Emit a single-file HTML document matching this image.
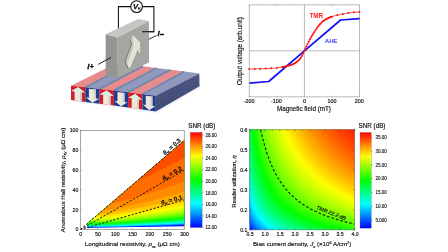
<!DOCTYPE html>
<html><head><meta charset="utf-8"><title>Figure</title>
<style>html,body{margin:0;padding:0;background:#fff;overflow:hidden}svg{display:block}</style>
</head><body>
<svg width="448" height="252" viewBox="0 0 448 252">
<defs><linearGradient id="rb" x1="0" y1="0" x2="0" y2="1"><stop offset="0" stop-color="#ff0000"/><stop offset="0.25" stop-color="#ffff00"/><stop offset="0.5" stop-color="#00ff00"/><stop offset="0.75" stop-color="#00ffff"/><stop offset="1" stop-color="#0000ff"/></linearGradient><linearGradient id="rf" x1="0" y1="0" x2="0.25" y2="1"><stop offset="0" stop-color="#59638f"/><stop offset="0.35" stop-color="#4a5480"/><stop offset="1" stop-color="#404a76"/></linearGradient></defs>
<rect width="448" height="252" fill="#fff"/>
<g id="illustration">
<polygon points="72.00,101.50 156.00,113.50 201.00,87.50 199.00,84.00" fill="#e9e9ec" opacity="0.45"/>
<polygon points="71.00,85.70 85.30,87.30 130.00,64.50 117.50,62.80" fill="#e88b8d"/>
<polygon points="85.30,87.30 99.60,89.00 143.00,66.20 130.00,64.50" fill="#8e99bb"/>
<polygon points="99.60,89.00 113.90,90.60 156.40,67.90 143.00,66.20" fill="#e88b8d"/>
<polygon points="113.90,90.60 128.10,92.30 170.70,69.80 156.40,67.90" fill="#8e99bb"/>
<polygon points="128.10,92.30 142.40,94.20 184.30,71.60 170.70,69.80" fill="#e88b8d"/>
<polygon points="142.40,94.20 155.80,95.80 199.30,73.60 184.30,71.60" fill="#8e99bb"/>
<line x1="85.30" y1="87.30" x2="130.00" y2="64.50" stroke="#6f87ad" stroke-width="1.7"/>
<line x1="99.60" y1="89.00" x2="143.00" y2="66.20" stroke="#6f87ad" stroke-width="1.7"/>
<line x1="113.90" y1="90.60" x2="156.40" y2="67.90" stroke="#6f87ad" stroke-width="1.7"/>
<line x1="128.10" y1="92.30" x2="170.70" y2="69.80" stroke="#6f87ad" stroke-width="1.7"/>
<line x1="142.40" y1="94.20" x2="184.30" y2="71.60" stroke="#6f87ad" stroke-width="1.7"/>
<polygon points="155.80,95.80 199.30,73.60 199.50,86.20 155.80,111.40" fill="url(#rf)"/>
<polygon points="71.00,85.70 85.30,87.30 85.30,101.90 71.00,100.00" fill="#cf1f2b"/>
<polygon points="85.30,87.30 99.60,89.00 99.60,103.70 85.30,101.90" fill="#1f3a8c"/>
<polygon points="99.60,89.00 113.90,90.60 113.90,105.60 99.60,103.70" fill="#cf1f2b"/>
<polygon points="113.90,90.60 128.10,92.30 128.10,107.40 113.90,105.60" fill="#1f3a8c"/>
<polygon points="128.10,92.30 142.40,94.20 142.40,109.50 128.10,107.40" fill="#cf1f2b"/>
<polygon points="142.40,94.20 155.80,95.80 155.80,111.40 142.40,109.50" fill="#1f3a8c"/>
<polygon points="78.15,87.22 84.87,92.50 81.87,92.00 81.87,101.44 74.58,100.47 74.58,91.13 71.29,90.88" fill="#ebe8dc"/>
<polygon points="80.01,91.92 81.87,92.15 81.87,101.44 80.01,101.20" fill="#cfccbf"/>
<polygon points="78.15,87.22 84.87,92.50 71.29,90.88" fill="#d9efe6"/>
<polygon points="92.45,102.65 99.17,98.80 96.02,98.55 96.02,89.60 88.88,88.75 88.88,97.67 85.73,97.14" fill="#ebe8dc"/>
<polygon points="94.17,89.38 96.02,89.60 96.02,98.55 94.17,98.32" fill="#cfccbf"/>
<polygon points="106.75,90.54 113.47,95.95 110.47,95.44 110.47,105.14 103.17,104.17 103.17,94.57 99.89,94.33" fill="#ebe8dc"/>
<polygon points="108.61,95.37 110.47,95.59 110.47,105.14 108.61,104.90" fill="#cfccbf"/>
<polygon points="106.75,90.54 113.47,95.95 99.89,94.33" fill="#d9efe6"/>
<polygon points="121.00,106.35 127.67,102.36 124.55,102.13 124.55,92.93 117.45,92.08 117.45,101.24 114.33,100.70" fill="#ebe8dc"/>
<polygon points="122.70,92.71 124.55,92.93 124.55,102.13 122.70,101.90" fill="#cfccbf"/>
<polygon points="135.25,94.01 141.97,99.65 138.97,99.08 138.97,109.00 131.68,107.93 131.68,98.08 128.39,97.78" fill="#ebe8dc"/>
<polygon points="137.11,98.98 138.97,99.23 138.97,109.00 137.11,108.72" fill="#cfccbf"/>
<polygon points="135.25,94.01 141.97,99.65 128.39,97.78" fill="#d9efe6"/>
<polygon points="149.10,110.30 155.40,106.20 152.45,105.96 152.45,96.49 145.75,95.68 145.75,105.05 142.80,104.51" fill="#ebe8dc"/>
<polygon points="150.71,96.28 152.45,96.49 152.45,105.96 150.71,105.72" fill="#cfccbf"/>
<path d="M118.4 30 V6.6 H153.9 V31.7 H142" fill="none" stroke="#111" stroke-width="1.05"/>
<polygon points="105.70,34.30 117.10,37.50 117.40,78.10 105.70,75.40" fill="#939591"/>
<polygon points="117.10,37.50 148.90,21.00 149.10,62.20 117.40,78.10" fill="#a4a6a2"/>
<polygon points="105.70,34.30 138.10,19.10 148.90,21.00 117.10,37.50" fill="#c4c6c1"/>
<polygon points="131.20,39.60 132.20,44.60 125.90,61.50 128.80,68.20 127.70,69.10 124.30,61.80 130.80,44.80 130.00,40.30" fill="#80827e"/>
<polygon points="137.60,50.10 139.90,54.40 139.90,55.80 137.30,51.60" fill="#8b8d89"/>
<polygon points="132.90,35.20 140.10,42.20 139.90,54.40 137.60,50.10 130.60,66.60 128.80,68.20 125.90,61.50 132.20,44.60 131.20,39.60" fill="#e4e2d7"/>
<polygon points="131.20,39.60 132.20,44.60 125.90,61.50 127.20,64.50 133.70,46.40 133.20,41.00 132.90,35.20" fill="#c6c5bb"/>
<path d="M153.9 31.7 H142" fill="none" stroke="#111" stroke-width="1.05"/>
<line x1="98.1" y1="64.4" x2="111" y2="57.5" stroke="#111" stroke-width="0.9"/>
<line x1="148.7" y1="39.3" x2="156.4" y2="35.5" stroke="#111" stroke-width="0.85"/>
<circle cx="136.6" cy="6.6" r="5.85" fill="#fff" stroke="#111" stroke-width="1.1"/>
<text x="133.1" y="8.8" font-family="Liberation Sans, Arial, sans-serif" font-size="7.6" font-weight="bold" font-style="italic" fill="#111" stroke="#111" stroke-width="0.25">V<tspan font-size="3.9" dx="-0.4" dy="1.25" font-style="normal" stroke-width="0.1">H</tspan></text>
<text x="87.3" y="69" font-family="Liberation Sans, Arial, sans-serif" font-size="7.8" font-weight="bold" font-style="italic" fill="#111" stroke="#111" stroke-width="0.3">I<tspan font-size="6.6" dx="0.3" dy="-0.5" stroke-width="0.4">+</tspan></text>
<text x="157.6" y="35.8" font-family="Liberation Sans, Arial, sans-serif" font-size="7.8" font-weight="bold" font-style="italic" fill="#111" stroke="#111" stroke-width="0.3">I<tspan font-size="7" dx="0.3" dy="-0.3" stroke-width="0.55">–</tspan></text>
</g>
<g id="plot-voltage">
<rect x="249.20" y="4.90" width="110.20" height="92.00" fill="#fff" stroke="#8c8c8c" stroke-width="0.6"/>
<line x1="304.40" y1="4.90" x2="304.40" y2="96.90" stroke="#8c8c8c" stroke-width="0.6"/>
<line x1="249.20" y1="50.80" x2="359.40" y2="50.80" stroke="#8c8c8c" stroke-width="0.6"/>
<line x1="249.20" y1="96.90" x2="249.20" y2="95.50" stroke="#8c8c8c" stroke-width="0.5"/>
<line x1="249.20" y1="4.90" x2="249.20" y2="6.30" stroke="#8c8c8c" stroke-width="0.5"/>
<line x1="262.97" y1="96.90" x2="262.97" y2="96.10" stroke="#8c8c8c" stroke-width="0.5"/>
<line x1="262.97" y1="4.90" x2="262.97" y2="5.70" stroke="#8c8c8c" stroke-width="0.5"/>
<line x1="276.75" y1="96.90" x2="276.75" y2="95.50" stroke="#8c8c8c" stroke-width="0.5"/>
<line x1="276.75" y1="4.90" x2="276.75" y2="6.30" stroke="#8c8c8c" stroke-width="0.5"/>
<line x1="290.52" y1="96.90" x2="290.52" y2="96.10" stroke="#8c8c8c" stroke-width="0.5"/>
<line x1="290.52" y1="4.90" x2="290.52" y2="5.70" stroke="#8c8c8c" stroke-width="0.5"/>
<line x1="304.30" y1="96.90" x2="304.30" y2="95.50" stroke="#8c8c8c" stroke-width="0.5"/>
<line x1="304.30" y1="4.90" x2="304.30" y2="6.30" stroke="#8c8c8c" stroke-width="0.5"/>
<line x1="318.07" y1="96.90" x2="318.07" y2="96.10" stroke="#8c8c8c" stroke-width="0.5"/>
<line x1="318.07" y1="4.90" x2="318.07" y2="5.70" stroke="#8c8c8c" stroke-width="0.5"/>
<line x1="331.85" y1="96.90" x2="331.85" y2="95.50" stroke="#8c8c8c" stroke-width="0.5"/>
<line x1="331.85" y1="4.90" x2="331.85" y2="6.30" stroke="#8c8c8c" stroke-width="0.5"/>
<line x1="345.62" y1="96.90" x2="345.62" y2="96.10" stroke="#8c8c8c" stroke-width="0.5"/>
<line x1="345.62" y1="4.90" x2="345.62" y2="5.70" stroke="#8c8c8c" stroke-width="0.5"/>
<line x1="359.40" y1="96.90" x2="359.40" y2="95.50" stroke="#8c8c8c" stroke-width="0.5"/>
<line x1="359.40" y1="4.90" x2="359.40" y2="6.30" stroke="#8c8c8c" stroke-width="0.5"/>
<polyline points="249.40,83.10 268.70,81.50 304.40,50.80 340.60,20.00 359.60,18.70" fill="none" stroke="#1010ff" stroke-width="1.7" stroke-linejoin="round"/>
<polyline points="249.40,69.00 262.00,68.80 276.60,68.00 283.70,66.90 290.90,65.10 295.00,63.20 298.00,61.10 300.40,58.40 302.30,55.40 304.40,50.60 307.00,45.20 310.70,37.70 314.30,32.00 318.60,25.60 322.90,21.30 325.70,19.40 330.70,17.00 337.10,15.10 342.90,13.90 348.60,13.00 354.30,12.30 359.60,12.00" fill="none" stroke="#ff1010" stroke-width="0.7" stroke-linejoin="round"/>
<circle cx="249.20" cy="69.00" r="1.0" fill="#ff1010"/>
<circle cx="254.71" cy="68.92" r="1.0" fill="#ff1010"/>
<circle cx="260.22" cy="68.83" r="1.0" fill="#ff1010"/>
<circle cx="265.73" cy="68.60" r="1.0" fill="#ff1010"/>
<circle cx="271.24" cy="68.29" r="1.0" fill="#ff1010"/>
<circle cx="276.75" cy="67.98" r="1.0" fill="#ff1010"/>
<circle cx="331.85" cy="16.66" r="1.0" fill="#ff1010"/>
<circle cx="337.36" cy="15.05" r="1.0" fill="#ff1010"/>
<circle cx="342.87" cy="13.91" r="1.0" fill="#ff1010"/>
<circle cx="348.38" cy="13.03" r="1.0" fill="#ff1010"/>
<circle cx="353.89" cy="12.35" r="1.0" fill="#ff1010"/>
<circle cx="359.40" cy="12.01" r="1.0" fill="#ff1010"/>
<circle cx="282.26" cy="67.12" r="1.0" fill="#ff1010"/>
<circle cx="283.36" cy="66.95" r="1.0" fill="#ff1010"/>
<circle cx="284.46" cy="66.71" r="1.0" fill="#ff1010"/>
<circle cx="285.56" cy="66.43" r="1.0" fill="#ff1010"/>
<circle cx="286.66" cy="66.16" r="1.0" fill="#ff1010"/>
<circle cx="287.76" cy="65.88" r="1.0" fill="#ff1010"/>
<circle cx="288.86" cy="65.61" r="1.0" fill="#ff1010"/>
<circle cx="289.96" cy="65.33" r="1.0" fill="#ff1010"/>
<circle cx="291.06" cy="65.03" r="1.0" fill="#ff1010"/>
<circle cx="292.16" cy="64.52" r="1.0" fill="#ff1010"/>
<circle cx="293.26" cy="64.01" r="1.0" fill="#ff1010"/>
<circle cx="294.36" cy="63.50" r="1.0" fill="#ff1010"/>
<circle cx="295.46" cy="62.88" r="1.0" fill="#ff1010"/>
<circle cx="296.56" cy="62.11" r="1.0" fill="#ff1010"/>
<circle cx="297.66" cy="61.34" r="1.0" fill="#ff1010"/>
<circle cx="298.76" cy="60.24" r="1.0" fill="#ff1010"/>
<circle cx="299.86" cy="59.01" r="1.0" fill="#ff1010"/>
<circle cx="300.96" cy="57.52" r="1.0" fill="#ff1010"/>
<circle cx="302.06" cy="55.78" r="1.0" fill="#ff1010"/>
<circle cx="303.16" cy="53.43" r="1.0" fill="#ff1010"/>
<circle cx="304.26" cy="50.92" r="1.0" fill="#ff1010"/>
<circle cx="305.36" cy="48.61" r="1.0" fill="#ff1010"/>
<circle cx="306.46" cy="46.32" r="1.0" fill="#ff1010"/>
<circle cx="307.56" cy="44.06" r="1.0" fill="#ff1010"/>
<circle cx="308.66" cy="41.84" r="1.0" fill="#ff1010"/>
<circle cx="309.76" cy="39.61" r="1.0" fill="#ff1010"/>
<circle cx="310.86" cy="37.45" r="1.0" fill="#ff1010"/>
<circle cx="311.96" cy="35.70" r="1.0" fill="#ff1010"/>
<circle cx="313.06" cy="33.96" r="1.0" fill="#ff1010"/>
<circle cx="314.16" cy="32.22" r="1.0" fill="#ff1010"/>
<circle cx="315.26" cy="30.57" r="1.0" fill="#ff1010"/>
<circle cx="316.36" cy="28.93" r="1.0" fill="#ff1010"/>
<circle cx="317.46" cy="27.30" r="1.0" fill="#ff1010"/>
<circle cx="318.56" cy="25.66" r="1.0" fill="#ff1010"/>
<circle cx="319.66" cy="24.54" r="1.0" fill="#ff1010"/>
<circle cx="320.76" cy="23.44" r="1.0" fill="#ff1010"/>
<circle cx="321.86" cy="22.34" r="1.0" fill="#ff1010"/>
<circle cx="322.96" cy="21.26" r="1.0" fill="#ff1010"/>
<circle cx="324.06" cy="20.51" r="1.0" fill="#ff1010"/>
<circle cx="325.16" cy="19.77" r="1.0" fill="#ff1010"/>
<circle cx="326.26" cy="19.13" r="1.0" fill="#ff1010"/>
<circle cx="327.36" cy="18.60" r="1.0" fill="#ff1010"/>
<circle cx="328.46" cy="18.08" r="1.0" fill="#ff1010"/>
<circle cx="329.56" cy="17.55" r="1.0" fill="#ff1010"/>
<circle cx="330.66" cy="17.02" r="1.0" fill="#ff1010"/>
<circle cx="331.76" cy="16.69" r="1.0" fill="#ff1010"/>
<text x="309.5" y="17.8" font-family="Liberation Sans, Arial, sans-serif" font-size="6.3" font-weight="bold" fill="#ff2020" stroke="none">TMR</text>
<text x="324.8" y="42.8" font-family="Liberation Sans, Arial, sans-serif" font-size="6.1" font-weight="bold" fill="#3a3aff" stroke="none">AHE</text>
<text x="249.10" y="103.3" font-family="Liberation Sans, Arial, sans-serif" font-size="5.4" text-anchor="middle" fill="#111" stroke="#111" stroke-width="0.16">-200</text>
<text x="276.30" y="103.3" font-family="Liberation Sans, Arial, sans-serif" font-size="5.4" text-anchor="middle" fill="#111" stroke="#111" stroke-width="0.16">-100</text>
<text x="304.40" y="103.3" font-family="Liberation Sans, Arial, sans-serif" font-size="5.4" text-anchor="middle" fill="#111" stroke="#111" stroke-width="0.16">0</text>
<text x="332.00" y="103.3" font-family="Liberation Sans, Arial, sans-serif" font-size="5.4" text-anchor="middle" fill="#111" stroke="#111" stroke-width="0.16">100</text>
<text x="359.20" y="103.3" font-family="Liberation Sans, Arial, sans-serif" font-size="5.4" text-anchor="middle" fill="#111" stroke="#111" stroke-width="0.16">200</text>
<text x="304" y="111.2" font-family="Liberation Sans, Arial, sans-serif" font-size="6.3" text-anchor="middle" fill="#111" stroke="#111" stroke-width="0.16">Magnetic field (mT)</text>
<text transform="translate(241.8,51) rotate(-90)" font-family="Liberation Sans, Arial, sans-serif" font-size="6.3" text-anchor="middle" fill="#111" stroke="#111" stroke-width="0.16">Output voltage (arb.unit)</text>
</g>
<g id="plot-ahe-snr">
<rect x="80.40" y="130.60" width="103.80" height="98.90" fill="#fff"/>
<clipPath id="wedge"><polygon points="87.32,223.57 184.20,140.49 184.20,226.24 87.32,227.82"/></clipPath>
<g clip-path="url(#wedge)">
<rect x="80.40" y="130.60" width="107.80" height="98.90" fill="#0000ff"/>
<polygon points="84.32,127.60 84.32,227.43 87.32,227.43 88.01,227.43 88.70,227.43 89.40,227.42 90.09,227.42 90.78,227.42 91.47,227.41 92.16,227.41 92.86,227.40 93.55,227.39 94.24,227.39 94.93,227.38 95.62,227.38 96.32,227.37 97.01,227.36 97.70,227.35 98.39,227.35 99.08,227.34 99.78,227.33 100.47,227.32 101.16,227.31 102.54,227.30 103.93,227.28 105.31,227.26 106.70,227.24 108.08,227.21 109.46,227.19 110.85,227.17 112.23,227.14 113.62,227.12 115.00,227.09 116.38,227.07 117.77,227.04 119.15,227.01 120.54,226.98 121.92,226.95 123.30,226.92 124.69,226.89 126.07,226.86 127.46,226.83 128.84,226.79 130.22,226.76 131.61,226.73 132.99,226.69 134.38,226.66 135.76,226.62 137.14,226.59 138.53,226.55 139.91,226.51 141.30,226.48 142.68,226.44 144.06,226.40 145.45,226.36 146.83,226.32 148.22,226.28 149.60,226.25 150.98,226.21 152.37,226.17 153.75,226.13 155.14,226.09 156.52,226.05 157.90,226.01 159.29,225.96 160.67,225.92 162.06,225.88 163.44,225.84 164.82,225.80 166.21,225.76 167.59,225.71 168.98,225.67 170.36,225.63 171.74,225.58 173.13,225.54 174.51,225.50 175.90,225.45 177.28,225.41 178.66,225.37 180.05,225.32 181.43,225.28 182.82,225.23 184.20,225.19 187.20,225.19 187.20,127.60" fill="#002eff"/>
<polygon points="84.32,127.60 84.32,227.31 87.32,227.31 88.01,227.30 88.70,227.30 89.40,227.30 90.09,227.29 90.78,227.29 91.47,227.28 92.16,227.28 92.86,227.27 93.55,227.27 94.24,227.26 94.93,227.25 95.62,227.25 96.32,227.24 97.01,227.23 97.70,227.22 98.39,227.22 99.08,227.21 99.78,227.20 100.47,227.19 101.16,227.18 102.54,227.16 103.93,227.14 105.31,227.12 106.70,227.10 108.08,227.07 109.46,227.05 110.85,227.02 112.23,227.00 113.62,226.97 115.00,226.94 116.38,226.92 117.77,226.89 119.15,226.86 120.54,226.83 121.92,226.79 123.30,226.76 124.69,226.73 126.07,226.69 127.46,226.66 128.84,226.63 130.22,226.59 131.61,226.55 132.99,226.52 134.38,226.48 135.76,226.44 137.14,226.41 138.53,226.37 139.91,226.33 141.30,226.29 142.68,226.25 144.06,226.21 145.45,226.17 146.83,226.13 148.22,226.09 149.60,226.05 150.98,226.00 152.37,225.96 153.75,225.92 155.14,225.88 156.52,225.83 157.90,225.79 159.29,225.75 160.67,225.70 162.06,225.66 163.44,225.61 164.82,225.57 166.21,225.53 167.59,225.48 168.98,225.44 170.36,225.39 171.74,225.34 173.13,225.30 174.51,225.25 175.90,225.21 177.28,225.16 178.66,225.11 180.05,225.07 181.43,225.02 182.82,224.97 184.20,224.93 187.20,224.93 187.20,127.60" fill="#004dff"/>
<polygon points="84.32,127.60 84.32,227.17 87.32,227.17 88.01,227.17 88.70,227.16 89.40,227.16 90.09,227.16 90.78,227.15 91.47,227.15 92.16,227.14 92.86,227.13 93.55,227.13 94.24,227.12 94.93,227.11 95.62,227.11 96.32,227.10 97.01,227.09 97.70,227.08 98.39,227.07 99.08,227.07 99.78,227.06 100.47,227.05 101.16,227.04 102.54,227.02 103.93,227.00 105.31,226.97 106.70,226.95 108.08,226.92 109.46,226.90 110.85,226.87 112.23,226.84 113.62,226.82 115.00,226.79 116.38,226.76 117.77,226.73 119.15,226.69 120.54,226.66 121.92,226.63 123.30,226.59 124.69,226.56 126.07,226.52 127.46,226.49 128.84,226.45 130.22,226.41 131.61,226.37 132.99,226.33 134.38,226.30 135.76,226.26 137.14,226.22 138.53,226.17 139.91,226.13 141.30,226.09 142.68,226.05 144.06,226.01 145.45,225.96 146.83,225.92 148.22,225.88 149.60,225.83 150.98,225.79 152.37,225.74 153.75,225.70 155.14,225.65 156.52,225.61 157.90,225.56 159.29,225.52 160.67,225.47 162.06,225.42 163.44,225.38 164.82,225.33 166.21,225.28 167.59,225.23 168.98,225.18 170.36,225.14 171.74,225.09 173.13,225.04 174.51,224.99 175.90,224.94 177.28,224.89 178.66,224.84 180.05,224.79 181.43,224.74 182.82,224.69 184.20,224.64 187.20,224.64 187.20,127.60" fill="#006cff"/>
<polygon points="84.32,127.60 84.32,227.03 87.32,227.03 88.01,227.02 88.70,227.02 89.40,227.02 90.09,227.01 90.78,227.01 91.47,227.00 92.16,226.99 92.86,226.99 93.55,226.98 94.24,226.97 94.93,226.97 95.62,226.96 96.32,226.95 97.01,226.94 97.70,226.93 98.39,226.92 99.08,226.91 99.78,226.90 100.47,226.89 101.16,226.88 102.54,226.86 103.93,226.84 105.31,226.82 106.70,226.79 108.08,226.76 109.46,226.74 110.85,226.71 112.23,226.68 113.62,226.65 115.00,226.62 116.38,226.59 117.77,226.55 119.15,226.52 120.54,226.48 121.92,226.45 123.30,226.41 124.69,226.38 126.07,226.34 127.46,226.30 128.84,226.26 130.22,226.22 131.61,226.18 132.99,226.14 134.38,226.10 135.76,226.05 137.14,226.01 138.53,225.97 139.91,225.92 141.30,225.88 142.68,225.84 144.06,225.79 145.45,225.75 146.83,225.70 148.22,225.65 149.60,225.61 150.98,225.56 152.37,225.51 153.75,225.46 155.14,225.42 156.52,225.37 157.90,225.32 159.29,225.27 160.67,225.22 162.06,225.17 163.44,225.12 164.82,225.07 166.21,225.02 167.59,224.97 168.98,224.92 170.36,224.87 171.74,224.81 173.13,224.76 174.51,224.71 175.90,224.66 177.28,224.61 178.66,224.55 180.05,224.50 181.43,224.45 182.82,224.40 184.20,224.34 187.20,224.34 187.20,127.60" fill="#008bff"/>
<polygon points="84.32,127.60 84.32,226.87 87.32,226.87 88.01,226.87 88.70,226.87 89.40,226.86 90.09,226.86 90.78,226.85 91.47,226.84 92.16,226.84 92.86,226.83 93.55,226.82 94.24,226.82 94.93,226.81 95.62,226.80 96.32,226.79 97.01,226.78 97.70,226.77 98.39,226.76 99.08,226.75 99.78,226.74 100.47,226.73 101.16,226.72 102.54,226.70 103.93,226.67 105.31,226.65 106.70,226.62 108.08,226.59 109.46,226.57 110.85,226.54 112.23,226.50 113.62,226.47 115.00,226.44 116.38,226.40 117.77,226.37 119.15,226.33 120.54,226.30 121.92,226.26 123.30,226.22 124.69,226.18 126.07,226.14 127.46,226.10 128.84,226.06 130.22,226.02 131.61,225.97 132.99,225.93 134.38,225.88 135.76,225.84 137.14,225.79 138.53,225.75 139.91,225.70 141.30,225.65 142.68,225.61 144.06,225.56 145.45,225.51 146.83,225.46 148.22,225.41 149.60,225.36 150.98,225.31 152.37,225.26 153.75,225.21 155.14,225.16 156.52,225.11 157.90,225.06 159.29,225.00 160.67,224.95 162.06,224.90 163.44,224.85 164.82,224.79 166.21,224.74 167.59,224.69 168.98,224.63 170.36,224.58 171.74,224.52 173.13,224.47 174.51,224.41 175.90,224.36 177.28,224.30 178.66,224.25 180.05,224.19 181.43,224.13 182.82,224.08 184.20,224.02 187.20,224.02 187.20,127.60" fill="#00aaff"/>
<polygon points="84.32,127.60 84.32,226.71 87.32,226.71 88.01,226.71 88.70,226.70 89.40,226.70 90.09,226.69 90.78,226.68 91.47,226.68 92.16,226.67 92.86,226.66 93.55,226.66 94.24,226.65 94.93,226.64 95.62,226.63 96.32,226.62 97.01,226.61 97.70,226.60 98.39,226.59 99.08,226.58 99.78,226.57 100.47,226.56 101.16,226.55 102.54,226.52 103.93,226.50 105.31,226.47 106.70,226.44 108.08,226.41 109.46,226.38 110.85,226.35 112.23,226.32 113.62,226.28 115.00,226.25 116.38,226.21 117.77,226.17 119.15,226.13 120.54,226.10 121.92,226.06 123.30,226.01 124.69,225.97 126.07,225.93 127.46,225.89 128.84,225.84 130.22,225.80 131.61,225.75 132.99,225.70 134.38,225.66 135.76,225.61 137.14,225.56 138.53,225.51 139.91,225.46 141.30,225.41 142.68,225.36 144.06,225.31 145.45,225.26 146.83,225.21 148.22,225.16 149.60,225.10 150.98,225.05 152.37,225.00 153.75,224.94 155.14,224.89 156.52,224.83 157.90,224.78 159.29,224.72 160.67,224.67 162.06,224.61 163.44,224.55 164.82,224.50 166.21,224.44 167.59,224.38 168.98,224.33 170.36,224.27 171.74,224.21 173.13,224.15 174.51,224.09 175.90,224.03 177.28,223.98 178.66,223.92 180.05,223.86 181.43,223.80 182.82,223.74 184.20,223.68 187.20,223.68 187.20,127.60" fill="#00c9ff"/>
<polygon points="84.32,127.60 84.32,226.53 87.32,226.53 88.01,226.53 88.70,226.52 89.40,226.52 90.09,226.51 90.78,226.51 91.47,226.50 92.16,226.49 92.86,226.48 93.55,226.48 94.24,226.47 94.93,226.46 95.62,226.45 96.32,226.44 97.01,226.43 97.70,226.42 98.39,226.41 99.08,226.40 99.78,226.39 100.47,226.37 101.16,226.36 102.54,226.33 103.93,226.31 105.31,226.28 106.70,226.25 108.08,226.22 109.46,226.18 110.85,226.15 112.23,226.12 113.62,226.08 115.00,226.04 116.38,226.00 117.77,225.96 119.15,225.92 120.54,225.88 121.92,225.84 123.30,225.79 124.69,225.75 126.07,225.70 127.46,225.66 128.84,225.61 130.22,225.56 131.61,225.51 132.99,225.47 134.38,225.42 135.76,225.36 137.14,225.31 138.53,225.26 139.91,225.21 141.30,225.16 142.68,225.10 144.06,225.05 145.45,224.99 146.83,224.94 148.22,224.88 149.60,224.83 150.98,224.77 152.37,224.71 153.75,224.65 155.14,224.60 156.52,224.54 157.90,224.48 159.29,224.42 160.67,224.36 162.06,224.30 163.44,224.24 164.82,224.18 166.21,224.12 167.59,224.06 168.98,224.00 170.36,223.94 171.74,223.88 173.13,223.81 174.51,223.75 175.90,223.69 177.28,223.63 178.66,223.56 180.05,223.50 181.43,223.44 182.82,223.37 184.20,223.31 187.20,223.31 187.20,127.60" fill="#00e8ff"/>
<polygon points="84.32,127.60 84.32,226.34 87.32,226.34 88.01,226.34 88.70,226.33 89.40,226.33 90.09,226.32 90.78,226.31 91.47,226.31 92.16,226.30 92.86,226.29 93.55,226.28 94.24,226.27 94.93,226.26 95.62,226.25 96.32,226.24 97.01,226.23 97.70,226.22 98.39,226.21 99.08,226.20 99.78,226.19 100.47,226.17 101.16,226.16 102.54,226.13 103.93,226.10 105.31,226.07 106.70,226.04 108.08,226.01 109.46,225.97 110.85,225.94 112.23,225.90 113.62,225.86 115.00,225.82 116.38,225.78 117.77,225.74 119.15,225.69 120.54,225.65 121.92,225.60 123.30,225.56 124.69,225.51 126.07,225.46 127.46,225.41 128.84,225.36 130.22,225.31 131.61,225.26 132.99,225.21 134.38,225.15 135.76,225.10 137.14,225.05 138.53,224.99 139.91,224.94 141.30,224.88 142.68,224.82 144.06,224.76 145.45,224.71 146.83,224.65 148.22,224.59 149.60,224.53 150.98,224.47 152.37,224.41 153.75,224.35 155.14,224.28 156.52,224.22 157.90,224.16 159.29,224.10 160.67,224.03 162.06,223.97 163.44,223.91 164.82,223.84 166.21,223.78 167.59,223.71 168.98,223.65 170.36,223.58 171.74,223.52 173.13,223.45 174.51,223.39 175.90,223.32 177.28,223.25 178.66,223.19 180.05,223.12 181.43,223.05 182.82,222.98 184.20,222.92 187.20,222.92 187.20,127.60" fill="#00fff7"/>
<polygon points="84.32,127.60 84.32,226.14 87.32,226.14 88.01,226.14 88.70,226.13 89.40,226.12 90.09,226.12 90.78,226.11 91.47,226.10 92.16,226.09 92.86,226.09 93.55,226.08 94.24,226.07 94.93,226.06 95.62,226.05 96.32,226.04 97.01,226.02 97.70,226.01 98.39,226.00 99.08,225.99 99.78,225.97 100.47,225.96 101.16,225.95 102.54,225.92 103.93,225.89 105.31,225.85 106.70,225.82 108.08,225.78 109.46,225.75 110.85,225.71 112.23,225.67 113.62,225.63 115.00,225.58 116.38,225.54 117.77,225.50 119.15,225.45 120.54,225.40 121.92,225.35 123.30,225.30 124.69,225.25 126.07,225.20 127.46,225.15 128.84,225.10 130.22,225.04 131.61,224.99 132.99,224.93 134.38,224.88 135.76,224.82 137.14,224.76 138.53,224.70 139.91,224.64 141.30,224.58 142.68,224.52 144.06,224.46 145.45,224.40 146.83,224.34 148.22,224.27 149.60,224.21 150.98,224.14 152.37,224.08 153.75,224.02 155.14,223.95 156.52,223.88 157.90,223.82 159.29,223.75 160.67,223.68 162.06,223.62 163.44,223.55 164.82,223.48 166.21,223.41 167.59,223.34 168.98,223.27 170.36,223.20 171.74,223.13 173.13,223.06 174.51,222.99 175.90,222.92 177.28,222.85 178.66,222.78 180.05,222.71 181.43,222.64 182.82,222.56 184.20,222.49 187.20,222.49 187.20,127.60" fill="#00ffd8"/>
<polygon points="84.32,127.60 84.32,225.92 87.32,225.92 88.01,225.92 88.70,225.91 89.40,225.91 90.09,225.90 90.78,225.89 91.47,225.88 92.16,225.87 92.86,225.86 93.55,225.85 94.24,225.84 94.93,225.83 95.62,225.82 96.32,225.81 97.01,225.80 97.70,225.79 98.39,225.77 99.08,225.76 99.78,225.74 100.47,225.73 101.16,225.72 102.54,225.68 103.93,225.65 105.31,225.62 106.70,225.58 108.08,225.54 109.46,225.50 110.85,225.46 112.23,225.42 113.62,225.38 115.00,225.33 116.38,225.28 117.77,225.24 119.15,225.19 120.54,225.14 121.92,225.08 123.30,225.03 124.69,224.98 126.07,224.92 127.46,224.87 128.84,224.81 130.22,224.75 131.61,224.69 132.99,224.64 134.38,224.58 135.76,224.51 137.14,224.45 138.53,224.39 139.91,224.33 141.30,224.26 142.68,224.20 144.06,224.13 145.45,224.07 146.83,224.00 148.22,223.93 149.60,223.87 150.98,223.80 152.37,223.73 153.75,223.66 155.14,223.59 156.52,223.52 157.90,223.45 159.29,223.38 160.67,223.31 162.06,223.23 163.44,223.16 164.82,223.09 166.21,223.02 167.59,222.94 168.98,222.87 170.36,222.79 171.74,222.72 173.13,222.65 174.51,222.57 175.90,222.49 177.28,222.42 178.66,222.34 180.05,222.27 181.43,222.19 182.82,222.11 184.20,222.04 187.20,222.04 187.20,127.60" fill="#00ffb9"/>
<polygon points="84.32,127.60 84.32,225.69 87.32,225.69 88.01,225.68 88.70,225.68 89.40,225.67 90.09,225.66 90.78,225.65 91.47,225.64 92.16,225.63 92.86,225.63 93.55,225.61 94.24,225.60 94.93,225.59 95.62,225.58 96.32,225.57 97.01,225.55 97.70,225.54 98.39,225.53 99.08,225.51 99.78,225.50 100.47,225.48 101.16,225.47 102.54,225.43 103.93,225.40 105.31,225.36 106.70,225.32 108.08,225.28 109.46,225.24 110.85,225.20 112.23,225.15 113.62,225.10 115.00,225.06 116.38,225.01 117.77,224.96 119.15,224.90 120.54,224.85 121.92,224.79 123.30,224.74 124.69,224.68 126.07,224.62 127.46,224.56 128.84,224.50 130.22,224.44 131.61,224.38 132.99,224.32 134.38,224.25 135.76,224.19 137.14,224.12 138.53,224.05 139.91,223.99 141.30,223.92 142.68,223.85 144.06,223.78 145.45,223.71 146.83,223.64 148.22,223.57 149.60,223.49 150.98,223.42 152.37,223.35 153.75,223.27 155.14,223.20 156.52,223.13 157.90,223.05 159.29,222.97 160.67,222.90 162.06,222.82 163.44,222.74 164.82,222.67 166.21,222.59 167.59,222.51 168.98,222.43 170.36,222.35 171.74,222.27 173.13,222.19 174.51,222.11 175.90,222.03 177.28,221.95 178.66,221.87 180.05,221.79 181.43,221.71 182.82,221.63 184.20,221.55 187.20,221.55 187.20,127.60" fill="#00ff9b"/>
<polygon points="84.32,127.60 84.32,225.43 87.32,225.43 88.01,225.43 88.70,225.42 89.40,225.41 90.09,225.41 90.78,225.40 91.47,225.39 92.16,225.38 92.86,225.37 93.55,225.36 94.24,225.34 94.93,225.33 95.62,225.32 96.32,225.31 97.01,225.29 97.70,225.28 98.39,225.26 99.08,225.25 99.78,225.23 100.47,225.21 101.16,225.20 102.54,225.16 103.93,225.12 105.31,225.09 106.70,225.04 108.08,225.00 109.46,224.96 110.85,224.91 112.23,224.86 113.62,224.81 115.00,224.76 116.38,224.71 117.77,224.65 119.15,224.60 120.54,224.54 121.92,224.48 123.30,224.42 124.69,224.36 126.07,224.30 127.46,224.23 128.84,224.17 130.22,224.10 131.61,224.04 132.99,223.97 134.38,223.90 135.76,223.83 137.14,223.76 138.53,223.69 139.91,223.62 141.30,223.55 142.68,223.47 144.06,223.40 145.45,223.32 146.83,223.25 148.22,223.17 149.60,223.09 150.98,223.02 152.37,222.94 153.75,222.86 155.14,222.78 156.52,222.70 157.90,222.62 159.29,222.54 160.67,222.46 162.06,222.38 163.44,222.29 164.82,222.21 166.21,222.13 167.59,222.05 168.98,221.96 170.36,221.88 171.74,221.79 173.13,221.71 174.51,221.62 175.90,221.54 177.28,221.45 178.66,221.36 180.05,221.28 181.43,221.19 182.82,221.10 184.20,221.02 187.20,221.02 187.20,127.60" fill="#00ff7c"/>
<polygon points="84.32,127.60 84.32,225.16 87.32,225.16 88.01,225.15 88.70,225.15 89.40,225.14 90.09,225.13 90.78,225.12 91.47,225.11 92.16,225.10 92.86,225.09 93.55,225.08 94.24,225.06 94.93,225.05 95.62,225.04 96.32,225.02 97.01,225.01 97.70,224.99 98.39,224.98 99.08,224.96 99.78,224.94 100.47,224.93 101.16,224.91 102.54,224.87 103.93,224.83 105.31,224.79 106.70,224.74 108.08,224.70 109.46,224.65 110.85,224.60 112.23,224.55 113.62,224.49 115.00,224.44 116.38,224.38 117.77,224.32 119.15,224.27 120.54,224.20 121.92,224.14 123.30,224.08 124.69,224.01 126.07,223.95 127.46,223.88 128.84,223.81 130.22,223.74 131.61,223.67 132.99,223.60 134.38,223.52 135.76,223.45 137.14,223.37 138.53,223.30 139.91,223.22 141.30,223.14 142.68,223.07 144.06,222.99 145.45,222.91 146.83,222.83 148.22,222.74 149.60,222.66 150.98,222.58 152.37,222.50 153.75,222.41 155.14,222.33 156.52,222.24 157.90,222.16 159.29,222.07 160.67,221.98 162.06,221.90 163.44,221.81 164.82,221.72 166.21,221.63 167.59,221.54 168.98,221.45 170.36,221.36 171.74,221.27 173.13,221.18 174.51,221.09 175.90,221.00 177.28,220.91 178.66,220.81 180.05,220.72 181.43,220.63 182.82,220.54 184.20,220.44 187.20,220.44 187.20,127.60" fill="#00ff5d"/>
<polygon points="84.32,127.60 84.32,224.86 87.32,224.86 88.01,224.85 88.70,224.85 89.40,224.84 90.09,224.83 90.78,224.82 91.47,224.81 92.16,224.80 92.86,224.78 93.55,224.77 94.24,224.76 94.93,224.74 95.62,224.73 96.32,224.71 97.01,224.70 97.70,224.68 98.39,224.67 99.08,224.65 99.78,224.63 100.47,224.61 101.16,224.59 102.54,224.55 103.93,224.51 105.31,224.46 106.70,224.42 108.08,224.37 109.46,224.32 110.85,224.26 112.23,224.21 113.62,224.15 115.00,224.09 116.38,224.03 117.77,223.97 119.15,223.91 120.54,223.84 121.92,223.77 123.30,223.70 124.69,223.64 126.07,223.56 127.46,223.49 128.84,223.42 130.22,223.34 131.61,223.27 132.99,223.19 134.38,223.11 135.76,223.03 137.14,222.95 138.53,222.87 139.91,222.79 141.30,222.71 142.68,222.62 144.06,222.54 145.45,222.45 146.83,222.37 148.22,222.28 149.60,222.19 150.98,222.10 152.37,222.01 153.75,221.92 155.14,221.83 156.52,221.74 157.90,221.65 159.29,221.56 160.67,221.47 162.06,221.37 163.44,221.28 164.82,221.18 166.21,221.09 167.59,220.99 168.98,220.90 170.36,220.80 171.74,220.71 173.13,220.61 174.51,220.51 175.90,220.41 177.28,220.32 178.66,220.22 180.05,220.12 181.43,220.02 182.82,219.92 184.20,219.82 187.20,219.82 187.20,127.60" fill="#00ff3e"/>
<polygon points="84.32,127.60 84.32,224.54 87.32,224.54 88.01,224.53 88.70,224.52 89.40,224.51 90.09,224.50 90.78,224.49 91.47,224.48 92.16,224.47 92.86,224.45 93.55,224.44 94.24,224.43 94.93,224.41 95.62,224.39 96.32,224.38 97.01,224.36 97.70,224.34 98.39,224.33 99.08,224.31 99.78,224.29 100.47,224.27 101.16,224.25 102.54,224.20 103.93,224.16 105.31,224.11 106.70,224.06 108.08,224.01 109.46,223.95 110.85,223.89 112.23,223.84 113.62,223.77 115.00,223.71 116.38,223.65 117.77,223.58 119.15,223.51 120.54,223.44 121.92,223.37 123.30,223.30 124.69,223.22 126.07,223.15 127.46,223.07 128.84,222.99 130.22,222.91 131.61,222.83 132.99,222.75 134.38,222.66 135.76,222.58 137.14,222.49 138.53,222.41 139.91,222.32 141.30,222.23 142.68,222.14 144.06,222.05 145.45,221.96 146.83,221.87 148.22,221.77 149.60,221.68 150.98,221.58 152.37,221.49 153.75,221.39 155.14,221.29 156.52,221.20 157.90,221.10 159.29,221.00 160.67,220.90 162.06,220.80 163.44,220.70 164.82,220.60 166.21,220.50 167.59,220.40 168.98,220.29 170.36,220.19 171.74,220.09 173.13,219.98 174.51,219.88 175.90,219.78 177.28,219.67 178.66,219.57 180.05,219.46 181.43,219.35 182.82,219.25 184.20,219.14 187.20,219.14 187.20,127.60" fill="#00ff1f"/>
<polygon points="84.32,127.60 84.32,224.18 87.32,224.18 88.01,224.17 88.70,224.16 89.40,224.15 90.09,224.14 90.78,224.13 91.47,224.12 92.16,224.10 92.86,224.09 93.55,224.08 94.24,224.06 94.93,224.04 95.62,224.03 96.32,224.01 97.01,223.99 97.70,223.97 98.39,223.95 99.08,223.93 99.78,223.91 100.47,223.89 101.16,223.87 102.54,223.82 103.93,223.77 105.31,223.72 106.70,223.67 108.08,223.61 109.46,223.55 110.85,223.49 112.23,223.43 113.62,223.36 115.00,223.30 116.38,223.23 117.77,223.16 119.15,223.08 120.54,223.01 121.92,222.93 123.30,222.85 124.69,222.77 126.07,222.69 127.46,222.61 128.84,222.52 130.22,222.44 131.61,222.35 132.99,222.26 134.38,222.17 135.76,222.08 137.14,221.99 138.53,221.90 139.91,221.80 141.30,221.71 142.68,221.61 144.06,221.51 145.45,221.42 146.83,221.32 148.22,221.22 149.60,221.12 150.98,221.01 152.37,220.91 153.75,220.81 155.14,220.71 156.52,220.60 157.90,220.50 159.29,220.39 160.67,220.28 162.06,220.18 163.44,220.07 164.82,219.96 166.21,219.85 167.59,219.74 168.98,219.63 170.36,219.52 171.74,219.41 173.13,219.30 174.51,219.19 175.90,219.08 177.28,218.97 178.66,218.85 180.05,218.74 181.43,218.63 182.82,218.51 184.20,218.40 187.20,218.40 187.20,127.60" fill="#00ff00"/>
<polygon points="84.32,127.60 84.32,223.79 87.32,223.79 88.01,223.78 88.70,223.77 89.40,223.76 90.09,223.75 90.78,223.73 91.47,223.72 92.16,223.71 92.86,223.69 93.55,223.68 94.24,223.66 94.93,223.64 95.62,223.62 96.32,223.61 97.01,223.59 97.70,223.57 98.39,223.55 99.08,223.52 99.78,223.50 100.47,223.48 101.16,223.45 102.54,223.40 103.93,223.35 105.31,223.30 106.70,223.24 108.08,223.18 109.46,223.11 110.85,223.05 112.23,222.98 113.62,222.91 115.00,222.84 116.38,222.76 117.77,222.69 119.15,222.61 120.54,222.53 121.92,222.45 123.30,222.36 124.69,222.28 126.07,222.19 127.46,222.10 128.84,222.01 130.22,221.92 131.61,221.82 132.99,221.73 134.38,221.63 135.76,221.54 137.14,221.44 138.53,221.34 139.91,221.24 141.30,221.13 142.68,221.03 144.06,220.93 145.45,220.82 146.83,220.71 148.22,220.61 149.60,220.50 150.98,220.39 152.37,220.28 153.75,220.17 155.14,220.06 156.52,219.95 157.90,219.83 159.29,219.72 160.67,219.60 162.06,219.49 163.44,219.37 164.82,219.26 166.21,219.14 167.59,219.02 168.98,218.91 170.36,218.79 171.74,218.67 173.13,218.55 174.51,218.43 175.90,218.31 177.28,218.19 178.66,218.07 180.05,217.95 181.43,217.82 182.82,217.70 184.20,217.58 187.20,217.58 187.20,127.60" fill="#1fff00"/>
<polygon points="87.57,127.60 87.57,223.35 88.01,223.34 88.70,223.33 89.40,223.32 90.09,223.31 90.78,223.30 91.47,223.28 92.16,223.27 92.86,223.25 93.55,223.23 94.24,223.22 94.93,223.20 95.62,223.18 96.32,223.16 97.01,223.14 97.70,223.12 98.39,223.09 99.08,223.07 99.78,223.05 100.47,223.02 101.16,222.99 102.54,222.94 103.93,222.88 105.31,222.82 106.70,222.76 108.08,222.70 109.46,222.63 110.85,222.56 112.23,222.49 113.62,222.41 115.00,222.33 116.38,222.25 117.77,222.17 119.15,222.09 120.54,222.00 121.92,221.91 123.30,221.82 124.69,221.73 126.07,221.63 127.46,221.54 128.84,221.44 130.22,221.34 131.61,221.24 132.99,221.14 134.38,221.04 135.76,220.93 137.14,220.82 138.53,220.72 139.91,220.61 141.30,220.50 142.68,220.39 144.06,220.27 145.45,220.16 146.83,220.05 148.22,219.93 149.60,219.81 150.98,219.70 152.37,219.58 153.75,219.46 155.14,219.34 156.52,219.22 157.90,219.10 159.29,218.98 160.67,218.85 162.06,218.73 163.44,218.60 164.82,218.48 166.21,218.35 167.59,218.23 168.98,218.10 170.36,217.97 171.74,217.85 173.13,217.72 174.51,217.59 175.90,217.46 177.28,217.33 178.66,217.20 180.05,217.07 181.43,216.94 182.82,216.80 184.20,216.67 187.20,216.67 187.20,127.60" fill="#3eff00"/>
<polygon points="88.15,127.60 88.15,222.86 88.70,222.85 89.40,222.83 90.09,222.82 90.78,222.81 91.47,222.79 92.16,222.78 92.86,222.76 93.55,222.74 94.24,222.72 94.93,222.70 95.62,222.68 96.32,222.66 97.01,222.64 97.70,222.61 98.39,222.59 99.08,222.56 99.78,222.54 100.47,222.51 101.16,222.48 102.54,222.42 103.93,222.36 105.31,222.30 106.70,222.23 108.08,222.16 109.46,222.09 110.85,222.01 112.23,221.93 113.62,221.85 115.00,221.77 116.38,221.68 117.77,221.59 119.15,221.50 120.54,221.41 121.92,221.31 123.30,221.22 124.69,221.12 126.07,221.01 127.46,220.91 128.84,220.81 130.22,220.70 131.61,220.59 132.99,220.48 134.38,220.37 135.76,220.26 137.14,220.14 138.53,220.02 139.91,219.91 141.30,219.79 142.68,219.67 144.06,219.55 145.45,219.43 146.83,219.30 148.22,219.18 149.60,219.05 150.98,218.93 152.37,218.80 153.75,218.67 155.14,218.54 156.52,218.41 157.90,218.28 159.29,218.15 160.67,218.01 162.06,217.88 163.44,217.75 164.82,217.61 166.21,217.48 167.59,217.34 168.98,217.20 170.36,217.07 171.74,216.93 173.13,216.79 174.51,216.65 175.90,216.51 177.28,216.37 178.66,216.23 180.05,216.09 181.43,215.95 182.82,215.81 184.20,215.66 187.20,215.66 187.20,127.60" fill="#5dff00"/>
<polygon points="88.80,127.60 88.80,222.30 89.40,222.29 90.09,222.27 90.78,222.26 91.47,222.24 92.16,222.22 92.86,222.21 93.55,222.19 94.24,222.17 94.93,222.14 95.62,222.12 96.32,222.10 97.01,222.07 97.70,222.05 98.39,222.02 99.08,221.99 99.78,221.97 100.47,221.94 101.16,221.91 102.54,221.84 103.93,221.78 105.31,221.71 106.70,221.64 108.08,221.56 109.46,221.48 110.85,221.40 112.23,221.31 113.62,221.23 115.00,221.13 116.38,221.04 117.77,220.95 119.15,220.85 120.54,220.75 121.92,220.64 123.30,220.54 124.69,220.43 126.07,220.32 127.46,220.21 128.84,220.09 130.22,219.98 131.61,219.86 132.99,219.74 134.38,219.62 135.76,219.50 137.14,219.37 138.53,219.25 139.91,219.12 141.30,218.99 142.68,218.86 144.06,218.73 145.45,218.60 146.83,218.47 148.22,218.33 149.60,218.20 150.98,218.06 152.37,217.92 153.75,217.78 155.14,217.64 156.52,217.50 157.90,217.36 159.29,217.22 160.67,217.07 162.06,216.93 163.44,216.78 164.82,216.64 166.21,216.49 167.59,216.34 168.98,216.20 170.36,216.05 171.74,215.90 173.13,215.75 174.51,215.60 175.90,215.45 177.28,215.29 178.66,215.14 180.05,214.99 181.43,214.84 182.82,214.68 184.20,214.53 187.20,214.53 187.20,127.60" fill="#7cff00"/>
<polygon points="89.54,127.60 89.54,221.66 90.09,221.65 90.78,221.64 91.47,221.62 92.16,221.60 92.86,221.58 93.55,221.56 94.24,221.53 94.93,221.51 95.62,221.49 96.32,221.46 97.01,221.43 97.70,221.41 98.39,221.38 99.08,221.35 99.78,221.32 100.47,221.29 101.16,221.25 102.54,221.19 103.93,221.11 105.31,221.04 106.70,220.96 108.08,220.88 109.46,220.79 110.85,220.70 112.23,220.61 113.62,220.51 115.00,220.42 116.38,220.31 117.77,220.21 119.15,220.10 120.54,219.99 121.92,219.88 123.30,219.77 124.69,219.65 126.07,219.53 127.46,219.41 128.84,219.28 130.22,219.16 131.61,219.03 132.99,218.90 134.38,218.77 135.76,218.64 137.14,218.50 138.53,218.37 139.91,218.23 141.30,218.09 142.68,217.95 144.06,217.81 145.45,217.66 146.83,217.52 148.22,217.37 149.60,217.22 150.98,217.07 152.37,216.92 153.75,216.77 155.14,216.62 156.52,216.47 157.90,216.31 159.29,216.16 160.67,216.00 162.06,215.85 163.44,215.69 164.82,215.53 166.21,215.37 167.59,215.21 168.98,215.05 170.36,214.89 171.74,214.73 173.13,214.57 174.51,214.40 175.90,214.24 177.28,214.07 178.66,213.91 180.05,213.74 181.43,213.58 182.82,213.41 184.20,213.24 187.20,213.24 187.20,127.60" fill="#9bff00"/>
<polygon points="90.39,127.60 90.39,220.93 90.78,220.92 91.47,220.90 92.16,220.88 92.86,220.86 93.55,220.83 94.24,220.81 94.93,220.78 95.62,220.76 96.32,220.73 97.01,220.70 97.70,220.67 98.39,220.64 99.08,220.61 99.78,220.57 100.47,220.54 101.16,220.50 102.54,220.43 103.93,220.35 105.31,220.27 106.70,220.18 108.08,220.09 109.46,220.00 110.85,219.90 112.23,219.80 113.62,219.70 115.00,219.59 116.38,219.48 117.77,219.36 119.15,219.25 120.54,219.13 121.92,219.00 123.30,218.88 124.69,218.75 126.07,218.62 127.46,218.49 128.84,218.35 130.22,218.22 131.61,218.08 132.99,217.94 134.38,217.79 135.76,217.65 137.14,217.50 138.53,217.35 139.91,217.20 141.30,217.05 142.68,216.90 144.06,216.74 145.45,216.58 146.83,216.43 148.22,216.27 149.60,216.11 150.98,215.94 152.37,215.78 153.75,215.62 155.14,215.45 156.52,215.28 157.90,215.11 159.29,214.95 160.67,214.78 162.06,214.60 163.44,214.43 164.82,214.26 166.21,214.09 167.59,213.91 168.98,213.74 170.36,213.56 171.74,213.38 173.13,213.21 174.51,213.03 175.90,212.85 177.28,212.67 178.66,212.49 180.05,212.31 181.43,212.13 182.82,211.94 184.20,211.76 187.20,211.76 187.20,127.60" fill="#b9ff00"/>
<polygon points="91.40,127.60 91.40,220.06 91.47,220.06 92.16,220.04 92.86,220.02 93.55,219.99 94.24,219.96 94.93,219.94 95.62,219.91 96.32,219.88 97.01,219.84 97.70,219.81 98.39,219.78 99.08,219.74 99.78,219.70 100.47,219.67 101.16,219.63 102.54,219.55 103.93,219.46 105.31,219.37 106.70,219.27 108.08,219.18 109.46,219.07 110.85,218.97 112.23,218.86 113.62,218.74 115.00,218.62 116.38,218.50 117.77,218.38 119.15,218.25 120.54,218.12 121.92,217.98 123.30,217.85 124.69,217.71 126.07,217.56 127.46,217.42 128.84,217.27 130.22,217.12 131.61,216.97 132.99,216.81 134.38,216.65 135.76,216.49 137.14,216.33 138.53,216.17 139.91,216.00 141.30,215.84 142.68,215.67 144.06,215.50 145.45,215.33 146.83,215.15 148.22,214.98 149.60,214.80 150.98,214.62 152.37,214.44 153.75,214.26 155.14,214.08 156.52,213.90 157.90,213.71 159.29,213.53 160.67,213.34 162.06,213.15 163.44,212.97 164.82,212.78 166.21,212.58 167.59,212.39 168.98,212.20 170.36,212.01 171.74,211.81 173.13,211.62 174.51,211.42 175.90,211.23 177.28,211.03 178.66,210.83 180.05,210.63 181.43,210.43 182.82,210.23 184.20,210.03 187.20,210.03 187.20,127.60" fill="#d8ff00"/>
<polygon points="92.62,127.60 92.62,219.02 92.86,219.01 93.55,218.98 94.24,218.96 94.93,218.92 95.62,218.89 96.32,218.86 97.01,218.82 97.70,218.79 98.39,218.75 99.08,218.71 99.78,218.67 100.47,218.63 101.16,218.58 102.54,218.49 103.93,218.40 105.31,218.30 106.70,218.19 108.08,218.08 109.46,217.97 110.85,217.85 112.23,217.73 113.62,217.60 115.00,217.47 116.38,217.34 117.77,217.20 119.15,217.06 120.54,216.91 121.92,216.76 123.30,216.61 124.69,216.46 126.07,216.30 127.46,216.14 128.84,215.98 130.22,215.81 131.61,215.64 132.99,215.47 134.38,215.30 135.76,215.12 137.14,214.94 138.53,214.76 139.91,214.58 141.30,214.39 142.68,214.21 144.06,214.02 145.45,213.83 146.83,213.64 148.22,213.44 149.60,213.25 150.98,213.05 152.37,212.85 153.75,212.65 155.14,212.45 156.52,212.25 157.90,212.04 159.29,211.84 160.67,211.63 162.06,211.43 163.44,211.22 164.82,211.01 166.21,210.80 167.59,210.59 168.98,210.37 170.36,210.16 171.74,209.94 173.13,209.73 174.51,209.51 175.90,209.29 177.28,209.08 178.66,208.86 180.05,208.64 181.43,208.42 182.82,208.20 184.20,207.98 187.20,207.98 187.20,127.60" fill="#f7ff00"/>
<polygon points="94.13,127.60 94.13,217.73 94.24,217.72 94.93,217.69 95.62,217.65 96.32,217.61 97.01,217.57 97.70,217.53 98.39,217.49 99.08,217.45 99.78,217.40 100.47,217.36 101.16,217.31 102.54,217.21 103.93,217.10 105.31,216.99 106.70,216.87 108.08,216.75 109.46,216.62 110.85,216.49 112.23,216.35 113.62,216.21 115.00,216.07 116.38,215.92 117.77,215.76 119.15,215.60 120.54,215.44 121.92,215.28 123.30,215.11 124.69,214.93 126.07,214.76 127.46,214.58 128.84,214.40 130.22,214.21 131.61,214.02 132.99,213.83 134.38,213.64 135.76,213.44 137.14,213.24 138.53,213.04 139.91,212.83 141.30,212.63 142.68,212.42 144.06,212.21 145.45,212.00 146.83,211.78 148.22,211.57 149.60,211.35 150.98,211.13 152.37,210.91 153.75,210.68 155.14,210.46 156.52,210.23 157.90,210.00 159.29,209.77 160.67,209.54 162.06,209.31 163.44,209.08 164.82,208.85 166.21,208.61 167.59,208.37 168.98,208.14 170.36,207.90 171.74,207.66 173.13,207.42 174.51,207.18 175.90,206.93 177.28,206.69 178.66,206.44 180.05,206.20 181.43,205.95 182.82,205.71 184.20,205.46 187.20,205.46 187.20,127.60" fill="#ffe800"/>
<polygon points="96.08,127.60 96.08,216.05 96.32,216.04 97.01,215.99 97.70,215.95 98.39,215.90 99.08,215.85 99.78,215.80 100.47,215.74 101.16,215.69 102.54,215.58 103.93,215.46 105.31,215.33 106.70,215.20 108.08,215.06 109.46,214.91 110.85,214.76 112.23,214.61 113.62,214.45 115.00,214.28 116.38,214.11 117.77,213.94 119.15,213.76 120.54,213.58 121.92,213.39 123.30,213.20 124.69,213.00 126.07,212.80 127.46,212.60 128.84,212.39 130.22,212.18 131.61,211.97 132.99,211.75 134.38,211.53 135.76,211.31 137.14,211.08 138.53,210.85 139.91,210.62 141.30,210.39 142.68,210.15 144.06,209.91 145.45,209.67 146.83,209.43 148.22,209.19 149.60,208.94 150.98,208.69 152.37,208.44 153.75,208.19 155.14,207.93 156.52,207.67 157.90,207.42 159.29,207.16 160.67,206.90 162.06,206.63 163.44,206.37 164.82,206.10 166.21,205.84 167.59,205.57 168.98,205.30 170.36,205.03 171.74,204.76 173.13,204.49 174.51,204.21 175.90,203.94 177.28,203.66 178.66,203.39 180.05,203.11 181.43,202.83 182.82,202.55 184.20,202.27 187.20,202.27 187.20,127.60" fill="#ffc900"/>
<polygon points="98.78,127.60 98.78,213.74 99.08,213.71 99.78,213.65 100.47,213.59 101.16,213.53 102.54,213.40 103.93,213.26 105.31,213.11 106.70,212.96 108.08,212.80 109.46,212.63 110.85,212.46 112.23,212.28 113.62,212.09 115.00,211.90 116.38,211.71 117.77,211.51 119.15,211.30 120.54,211.09 121.92,210.87 123.30,210.65 124.69,210.42 126.07,210.19 127.46,209.95 128.84,209.71 130.22,209.47 131.61,209.22 132.99,208.97 134.38,208.72 135.76,208.46 137.14,208.20 138.53,207.94 139.91,207.67 141.30,207.40 142.68,207.13 144.06,206.85 145.45,206.57 146.83,206.29 148.22,206.01 149.60,205.72 150.98,205.43 152.37,205.14 153.75,204.85 155.14,204.56 156.52,204.26 157.90,203.96 159.29,203.66 160.67,203.36 162.06,203.06 163.44,202.75 164.82,202.45 166.21,202.14 167.59,201.83 168.98,201.52 170.36,201.20 171.74,200.89 173.13,200.57 174.51,200.26 175.90,199.94 177.28,199.62 178.66,199.30 180.05,198.98 181.43,198.66 182.82,198.33 184.20,198.01 187.20,198.01 187.20,127.60" fill="#ffaa00"/>
<polygon points="102.90,127.60 102.90,210.20 103.93,210.08 105.31,209.90 106.70,209.72 108.08,209.53 109.46,209.33 110.85,209.12 112.23,208.91 113.62,208.69 115.00,208.46 116.38,208.22 117.77,207.98 119.15,207.73 120.54,207.48 121.92,207.22 123.30,206.96 124.69,206.68 126.07,206.41 127.46,206.13 128.84,205.84 130.22,205.55 131.61,205.25 132.99,204.95 134.38,204.65 135.76,204.34 137.14,204.03 138.53,203.71 139.91,203.39 141.30,203.07 142.68,202.75 144.06,202.42 145.45,202.08 146.83,201.75 148.22,201.41 149.60,201.07 150.98,200.72 152.37,200.38 153.75,200.03 155.14,199.67 156.52,199.32 157.90,198.96 159.29,198.60 160.67,198.24 162.06,197.88 163.44,197.52 164.82,197.15 166.21,196.78 167.59,196.41 168.98,196.04 170.36,195.66 171.74,195.29 173.13,194.91 174.51,194.53 175.90,194.15 177.28,193.77 178.66,193.39 180.05,193.00 181.43,192.62 182.82,192.23 184.20,191.84 187.20,191.84 187.20,127.60" fill="#ff8b00"/>
<polygon points="110.60,127.60 110.60,203.60 110.85,203.56 112.23,203.28 113.62,203.00 115.00,202.71 116.38,202.41 117.77,202.10 119.15,201.79 120.54,201.47 121.92,201.13 123.30,200.80 124.69,200.45 126.07,200.10 127.46,199.74 128.84,199.38 130.22,199.01 131.61,198.63 132.99,198.25 134.38,197.86 135.76,197.47 137.14,197.07 138.53,196.67 139.91,196.26 141.30,195.85 142.68,195.44 144.06,195.02 145.45,194.59 146.83,194.17 148.22,193.73 149.60,193.30 150.98,192.86 152.37,192.42 153.75,191.97 155.14,191.53 156.52,191.07 157.90,190.62 159.29,190.16 160.67,189.70 162.06,189.24 163.44,188.78 164.82,188.31 166.21,187.84 167.59,187.37 168.98,186.90 170.36,186.42 171.74,185.94 173.13,185.46 174.51,184.98 175.90,184.50 177.28,184.01 178.66,183.52 180.05,183.03 181.43,182.54 182.82,182.05 184.20,181.56 187.20,181.56 187.20,127.60" fill="#ff6c00"/>
<polygon points="136.84,127.60 136.84,181.10 137.14,180.97 138.53,180.37 139.91,179.76 141.30,179.14 142.68,178.52 144.06,177.89 145.45,177.26 146.83,176.62 148.22,175.97 149.60,175.32 150.98,174.67 152.37,174.01 153.75,173.34 155.14,172.67 156.52,171.99 157.90,171.31 159.29,170.63 160.67,169.94 162.06,169.25 163.44,168.56 164.82,167.86 166.21,167.15 167.59,166.45 168.98,165.74 170.36,165.03 171.74,164.31 173.13,163.59 174.51,162.87 175.90,162.15 177.28,161.42 178.66,160.69 180.05,159.96 181.43,159.22 182.82,158.49 184.20,157.75 187.20,157.75 187.20,127.60" fill="#ff4d00"/>
</g>
<line x1="80.40" y1="229.50" x2="184.20" y2="199.83" stroke="#111" stroke-width="1.0" stroke-dasharray="2.1 1.7"/>
<line x1="80.40" y1="229.50" x2="184.20" y2="170.16" stroke="#111" stroke-width="1.0" stroke-dasharray="2.1 1.7"/>
<line x1="80.40" y1="229.50" x2="184.20" y2="140.49" stroke="#111" stroke-width="1.0" stroke-dasharray="2.1 1.7"/>
<rect x="80.40" y="130.60" width="103.80" height="98.90" fill="none" stroke="#6e6e6e" stroke-width="0.6"/>
<line x1="80.40" y1="229.50" x2="81.80" y2="229.50" stroke="#6e6e6e" stroke-width="0.5"/>
<line x1="80.40" y1="219.61" x2="81.20" y2="219.61" stroke="#6e6e6e" stroke-width="0.5"/>
<line x1="80.40" y1="209.72" x2="81.80" y2="209.72" stroke="#6e6e6e" stroke-width="0.5"/>
<line x1="80.40" y1="199.83" x2="81.20" y2="199.83" stroke="#6e6e6e" stroke-width="0.5"/>
<line x1="80.40" y1="189.94" x2="81.80" y2="189.94" stroke="#6e6e6e" stroke-width="0.5"/>
<line x1="80.40" y1="180.05" x2="81.20" y2="180.05" stroke="#6e6e6e" stroke-width="0.5"/>
<line x1="80.40" y1="170.16" x2="81.80" y2="170.16" stroke="#6e6e6e" stroke-width="0.5"/>
<line x1="80.40" y1="160.27" x2="81.20" y2="160.27" stroke="#6e6e6e" stroke-width="0.5"/>
<line x1="80.40" y1="150.38" x2="81.80" y2="150.38" stroke="#6e6e6e" stroke-width="0.5"/>
<line x1="80.40" y1="140.49" x2="81.20" y2="140.49" stroke="#6e6e6e" stroke-width="0.5"/>
<line x1="80.40" y1="130.60" x2="81.80" y2="130.60" stroke="#6e6e6e" stroke-width="0.5"/>
<line x1="80.40" y1="229.50" x2="80.40" y2="228.10" stroke="#6e6e6e" stroke-width="0.5"/>
<line x1="89.05" y1="229.50" x2="89.05" y2="228.70" stroke="#6e6e6e" stroke-width="0.5"/>
<line x1="97.70" y1="229.50" x2="97.70" y2="228.10" stroke="#6e6e6e" stroke-width="0.5"/>
<line x1="106.35" y1="229.50" x2="106.35" y2="228.70" stroke="#6e6e6e" stroke-width="0.5"/>
<line x1="115.00" y1="229.50" x2="115.00" y2="228.10" stroke="#6e6e6e" stroke-width="0.5"/>
<line x1="123.65" y1="229.50" x2="123.65" y2="228.70" stroke="#6e6e6e" stroke-width="0.5"/>
<line x1="132.30" y1="229.50" x2="132.30" y2="228.10" stroke="#6e6e6e" stroke-width="0.5"/>
<line x1="140.95" y1="229.50" x2="140.95" y2="228.70" stroke="#6e6e6e" stroke-width="0.5"/>
<line x1="149.60" y1="229.50" x2="149.60" y2="228.10" stroke="#6e6e6e" stroke-width="0.5"/>
<line x1="158.25" y1="229.50" x2="158.25" y2="228.70" stroke="#6e6e6e" stroke-width="0.5"/>
<line x1="166.90" y1="229.50" x2="166.90" y2="228.10" stroke="#6e6e6e" stroke-width="0.5"/>
<line x1="175.55" y1="229.50" x2="175.55" y2="228.70" stroke="#6e6e6e" stroke-width="0.5"/>
<line x1="184.20" y1="229.50" x2="184.20" y2="228.10" stroke="#6e6e6e" stroke-width="0.5"/>
<text x="78.3" y="231.35" font-family="Liberation Sans, Arial, sans-serif" font-size="5.2" text-anchor="end" fill="#111" stroke="#111" stroke-width="0.16">0</text>
<text x="78.3" y="211.57" font-family="Liberation Sans, Arial, sans-serif" font-size="5.2" text-anchor="end" fill="#111" stroke="#111" stroke-width="0.16">20</text>
<text x="78.3" y="191.79" font-family="Liberation Sans, Arial, sans-serif" font-size="5.2" text-anchor="end" fill="#111" stroke="#111" stroke-width="0.16">40</text>
<text x="78.3" y="172.01" font-family="Liberation Sans, Arial, sans-serif" font-size="5.2" text-anchor="end" fill="#111" stroke="#111" stroke-width="0.16">60</text>
<text x="78.3" y="152.23" font-family="Liberation Sans, Arial, sans-serif" font-size="5.2" text-anchor="end" fill="#111" stroke="#111" stroke-width="0.16">80</text>
<text x="78.3" y="132.45" font-family="Liberation Sans, Arial, sans-serif" font-size="5.2" text-anchor="end" fill="#111" stroke="#111" stroke-width="0.16">100</text>
<text x="80.70" y="236.4" font-family="Liberation Sans, Arial, sans-serif" font-size="5.2" text-anchor="middle" fill="#111" stroke="#111" stroke-width="0.16">0</text>
<text x="98.00" y="236.4" font-family="Liberation Sans, Arial, sans-serif" font-size="5.2" text-anchor="middle" fill="#111" stroke="#111" stroke-width="0.16">50</text>
<text x="115.30" y="236.4" font-family="Liberation Sans, Arial, sans-serif" font-size="5.2" text-anchor="middle" fill="#111" stroke="#111" stroke-width="0.16">100</text>
<text x="132.60" y="236.4" font-family="Liberation Sans, Arial, sans-serif" font-size="5.2" text-anchor="middle" fill="#111" stroke="#111" stroke-width="0.16">150</text>
<text x="149.90" y="236.4" font-family="Liberation Sans, Arial, sans-serif" font-size="5.2" text-anchor="middle" fill="#111" stroke="#111" stroke-width="0.16">200</text>
<text x="167.20" y="236.4" font-family="Liberation Sans, Arial, sans-serif" font-size="5.2" text-anchor="middle" fill="#111" stroke="#111" stroke-width="0.16">250</text>
<text x="184.50" y="236.4" font-family="Liberation Sans, Arial, sans-serif" font-size="5.2" text-anchor="middle" fill="#111" stroke="#111" stroke-width="0.16">300</text>
<text x="132.3" y="246.3" font-family="Liberation Sans, Arial, sans-serif" font-size="6.2" text-anchor="middle" fill="#111" stroke="#111" stroke-width="0.16">Longitudinal resistivity, <tspan font-style="italic">ρ</tspan><tspan font-size="3.8" dy="1.3" font-style="italic">xx</tspan><tspan dy="-1.3"> (μΩ cm)</tspan></text>
<text transform="translate(65.1,180) rotate(-90)" font-family="Liberation Sans, Arial, sans-serif" font-size="6.2" text-anchor="middle" fill="#111" stroke="#111" stroke-width="0.16">Anomalous Hall resistivity, <tspan font-style="italic">ρ</tspan><tspan font-size="3.8" dy="1.3" font-style="italic">xy</tspan><tspan dy="-1.3"> (μΩ cm)</tspan></text>
<text transform="translate(173.22,148.33) rotate(-40.6)" font-family="Liberation Sans, Arial, sans-serif" font-size="6.2" font-weight="bold" text-anchor="middle" fill="#111" stroke="#111" stroke-width="0.16"><tspan font-style="italic">θ</tspan><tspan font-size="3.6" dy="1.1">H</tspan><tspan dy="-1.1"> = 0.3</tspan></text>
<text transform="translate(173.05,175.26) rotate(-29.8)" font-family="Liberation Sans, Arial, sans-serif" font-size="6.2" font-weight="bold" text-anchor="middle" fill="#111" stroke="#111" stroke-width="0.16"><tspan font-style="italic">θ</tspan><tspan font-size="3.6" dy="1.1">H</tspan><tspan dy="-1.1"> = 0.2</tspan></text>
<text transform="translate(172.30,202.09) rotate(-16.0)" font-family="Liberation Sans, Arial, sans-serif" font-size="6.2" font-weight="bold" text-anchor="middle" fill="#111" stroke="#111" stroke-width="0.16"><tspan font-style="italic">θ</tspan><tspan font-size="3.6" dy="1.1">H</tspan><tspan dy="-1.1"> = 0.1</tspan></text>
<rect x="190.20" y="132.30" width="12.00" height="95.30" fill="url(#rb)"/>
<rect x="190.20" y="132.30" width="12.00" height="95.30" fill="none" stroke="#888" stroke-width="0.3"/>
<line x1="202.20" y1="227.52" x2="203.40" y2="227.52" stroke="#444" stroke-width="0.5"/>
<text x="205.6" y="229.12" font-family="Liberation Sans, Arial, sans-serif" font-size="4.5" fill="#111" stroke="#111" stroke-width="0.12">12.00</text>
<line x1="202.20" y1="215.98" x2="203.40" y2="215.98" stroke="#444" stroke-width="0.5"/>
<text x="205.6" y="217.58" font-family="Liberation Sans, Arial, sans-serif" font-size="4.5" fill="#111" stroke="#111" stroke-width="0.12">14.00</text>
<line x1="202.20" y1="204.44" x2="203.40" y2="204.44" stroke="#444" stroke-width="0.5"/>
<text x="205.6" y="206.04" font-family="Liberation Sans, Arial, sans-serif" font-size="4.5" fill="#111" stroke="#111" stroke-width="0.12">16.00</text>
<line x1="202.20" y1="192.90" x2="203.40" y2="192.90" stroke="#444" stroke-width="0.5"/>
<text x="205.6" y="194.50" font-family="Liberation Sans, Arial, sans-serif" font-size="4.5" fill="#111" stroke="#111" stroke-width="0.12">18.00</text>
<line x1="202.20" y1="181.36" x2="203.40" y2="181.36" stroke="#444" stroke-width="0.5"/>
<text x="205.6" y="182.96" font-family="Liberation Sans, Arial, sans-serif" font-size="4.5" fill="#111" stroke="#111" stroke-width="0.12">20.00</text>
<line x1="202.20" y1="169.82" x2="203.40" y2="169.82" stroke="#444" stroke-width="0.5"/>
<text x="205.6" y="171.42" font-family="Liberation Sans, Arial, sans-serif" font-size="4.5" fill="#111" stroke="#111" stroke-width="0.12">22.00</text>
<line x1="202.20" y1="158.28" x2="203.40" y2="158.28" stroke="#444" stroke-width="0.5"/>
<text x="205.6" y="159.88" font-family="Liberation Sans, Arial, sans-serif" font-size="4.5" fill="#111" stroke="#111" stroke-width="0.12">24.00</text>
<line x1="202.20" y1="146.74" x2="203.40" y2="146.74" stroke="#444" stroke-width="0.5"/>
<text x="205.6" y="148.34" font-family="Liberation Sans, Arial, sans-serif" font-size="4.5" fill="#111" stroke="#111" stroke-width="0.12">26.00</text>
<line x1="202.20" y1="135.20" x2="203.40" y2="135.20" stroke="#444" stroke-width="0.5"/>
<text x="205.6" y="136.80" font-family="Liberation Sans, Arial, sans-serif" font-size="4.5" fill="#111" stroke="#111" stroke-width="0.12">28.00</text>
<text x="201.8" y="128.1" font-family="Liberation Sans, Arial, sans-serif" font-size="6.3" text-anchor="middle" fill="#111" stroke="#111" stroke-width="0.16">SNR (dB)</text>
</g>
<g id="plot-reader-snr">
<clipPath id="hm"><rect x="249.80" y="129.80" width="104.90" height="100.10"/></clipPath>
<g clip-path="url(#hm)">
<rect x="248.80" y="128.80" width="106.90" height="102.10" fill="#0000ff"/>
<polygon points="246.80,126.80 246.80,228.70 249.80,228.70 249.82,228.73 249.85,228.76 249.87,228.79 249.89,228.83 249.92,228.86 249.94,228.89 249.96,228.92 249.98,228.95 250.01,228.99 250.03,229.02 250.05,229.05 250.08,229.08 250.10,229.11 250.12,229.14 250.15,229.18 250.17,229.21 250.19,229.24 250.22,229.27 250.24,229.30 250.26,229.33 250.29,229.36 250.31,229.39 250.33,229.42 250.35,229.45 250.38,229.48 250.40,229.51 250.42,229.54 250.45,229.57 250.47,229.60 250.49,229.63 250.52,229.66 250.54,229.69 250.56,229.72 250.59,229.75 250.61,229.78 250.63,229.81 250.65,229.84 250.68,229.87 250.70,229.90 250.70,232.90 357.70,232.90 357.70,126.80" fill="#0016ff"/>
<polygon points="246.80,126.80 246.80,227.44 249.80,227.44 249.85,227.51 249.89,227.58 249.94,227.65 249.99,227.72 250.04,227.79 250.08,227.86 250.13,227.92 250.18,227.99 250.23,228.06 250.27,228.13 250.32,228.19 250.37,228.26 250.41,228.32 250.46,228.39 250.51,228.45 250.56,228.52 250.60,228.58 250.65,228.65 250.70,228.71 250.74,228.77 250.79,228.83 250.84,228.90 250.89,228.96 250.93,229.02 250.98,229.08 251.03,229.14 251.08,229.20 251.12,229.26 251.17,229.32 251.22,229.38 251.26,229.44 251.31,229.50 251.36,229.56 251.41,229.61 251.45,229.67 251.50,229.73 251.55,229.79 251.60,229.84 251.64,229.90 251.64,232.90 357.70,232.90 357.70,126.80" fill="#0025ff"/>
<polygon points="246.80,126.80 246.80,226.11 249.80,226.11 249.87,226.22 249.95,226.34 250.02,226.45 250.09,226.56 250.16,226.67 250.24,226.78 250.31,226.89 250.38,227.00 250.46,227.10 250.53,227.21 250.60,227.31 250.67,227.42 250.75,227.52 250.82,227.62 250.89,227.72 250.96,227.82 251.04,227.92 251.11,228.02 251.18,228.12 251.26,228.22 251.33,228.31 251.40,228.41 251.47,228.50 251.55,228.59 251.62,228.69 251.69,228.78 251.77,228.87 251.84,228.96 251.91,229.05 251.98,229.14 252.06,229.22 252.13,229.31 252.20,229.40 252.28,229.48 252.35,229.57 252.42,229.65 252.49,229.74 252.57,229.82 252.64,229.90 252.64,232.90 357.70,232.90 357.70,126.80" fill="#0034ff"/>
<polygon points="246.80,126.80 246.80,224.70 249.80,224.70 249.90,224.86 250.00,225.03 250.10,225.19 250.20,225.35 250.30,225.51 250.40,225.67 250.50,225.82 250.60,225.97 250.70,226.12 250.80,226.27 250.90,226.42 251.00,226.56 251.10,226.71 251.20,226.85 251.30,226.99 251.40,227.13 251.50,227.26 251.60,227.40 251.70,227.53 251.80,227.66 251.90,227.79 252.00,227.92 252.10,228.05 252.20,228.17 252.30,228.30 252.40,228.42 252.50,228.54 252.60,228.66 252.70,228.78 252.80,228.90 252.90,229.02 253.00,229.13 253.10,229.24 253.20,229.36 253.30,229.47 253.40,229.58 253.50,229.69 253.60,229.79 253.70,229.90 253.70,232.90 357.70,232.90 357.70,126.80" fill="#0042ff"/>
<polygon points="246.80,126.80 246.80,223.20 249.80,223.20 249.93,223.43 250.06,223.65 250.19,223.87 250.31,224.09 250.44,224.30 250.57,224.51 250.70,224.71 250.83,224.92 250.96,225.12 251.09,225.31 251.21,225.51 251.34,225.70 251.47,225.88 251.60,226.07 251.73,226.25 251.86,226.43 251.99,226.60 252.11,226.78 252.24,226.95 252.37,227.11 252.50,227.28 252.63,227.44 252.76,227.60 252.89,227.76 253.01,227.92 253.14,228.07 253.27,228.23 253.40,228.38 253.53,228.52 253.66,228.67 253.79,228.81 253.91,228.96 254.04,229.10 254.17,229.24 254.30,229.37 254.43,229.51 254.56,229.64 254.69,229.77 254.81,229.90 254.81,232.90 357.70,232.90 357.70,126.80" fill="#0051ff"/>
<polygon points="246.80,126.80 246.80,221.62 249.80,221.62 249.96,221.91 250.12,222.21 250.28,222.49 250.44,222.77 250.59,223.04 250.75,223.31 250.91,223.57 251.07,223.83 251.23,224.08 251.39,224.33 251.55,224.57 251.71,224.81 251.87,225.05 252.03,225.28 252.18,225.50 252.34,225.72 252.50,225.94 252.66,226.16 252.82,226.37 252.98,226.57 253.14,226.77 253.30,226.97 253.46,227.17 253.62,227.36 253.77,227.55 253.93,227.74 254.09,227.92 254.25,228.10 254.41,228.28 254.57,228.45 254.73,228.62 254.89,228.79 255.05,228.96 255.20,229.12 255.36,229.28 255.52,229.44 255.68,229.59 255.84,229.75 256.00,229.90 256.00,232.90 357.70,232.90 357.70,126.80" fill="#0060ff"/>
<polygon points="246.80,126.80 246.80,219.94 249.80,219.94 249.99,220.32 250.18,220.69 250.37,221.05 250.56,221.40 250.76,221.74 250.95,222.07 251.14,222.40 251.33,222.72 251.52,223.03 251.71,223.33 251.90,223.63 252.09,223.92 252.29,224.20 252.48,224.48 252.67,224.76 252.86,225.02 253.05,225.28 253.24,225.54 253.43,225.79 253.62,226.03 253.81,226.27 254.01,226.51 254.20,226.74 254.39,226.97 254.58,227.19 254.77,227.41 254.96,227.62 255.15,227.83 255.34,228.04 255.53,228.24 255.73,228.44 255.92,228.63 256.11,228.82 256.30,229.01 256.49,229.19 256.68,229.37 256.87,229.55 257.06,229.73 257.26,229.90 257.26,232.90 357.70,232.90 357.70,126.80" fill="#006fff"/>
<polygon points="246.80,126.80 246.80,218.16 249.80,218.16 250.03,218.63 250.25,219.09 250.48,219.53 250.70,219.97 250.93,220.38 251.15,220.79 251.38,221.19 251.60,221.57 251.83,221.95 252.05,222.31 252.28,222.67 252.50,223.02 252.73,223.36 252.95,223.68 253.18,224.01 253.40,224.32 253.63,224.63 253.85,224.93 254.08,225.22 254.30,225.50 254.53,225.78 254.76,226.06 254.98,226.32 255.21,226.58 255.43,226.84 255.66,227.09 255.88,227.33 256.11,227.57 256.33,227.80 256.56,228.03 256.78,228.26 257.01,228.48 257.23,228.69 257.46,228.90 257.68,229.11 257.91,229.31 258.13,229.51 258.36,229.71 258.58,229.90 258.58,232.90 357.70,232.90 357.70,126.80" fill="#007dff"/>
<polygon points="246.80,126.80 246.80,216.28 249.80,216.28 250.06,216.86 250.32,217.42 250.58,217.95 250.85,218.48 251.11,218.98 251.37,219.47 251.63,219.94 251.89,220.40 252.15,220.85 252.41,221.28 252.68,221.70 252.94,222.10 253.20,222.50 253.46,222.88 253.72,223.26 253.98,223.62 254.24,223.98 254.50,224.32 254.77,224.65 255.03,224.98 255.29,225.30 255.55,225.61 255.81,225.91 256.07,226.21 256.33,226.50 256.60,226.78 256.86,227.05 257.12,227.32 257.38,227.58 257.64,227.84 257.90,228.09 258.16,228.33 258.43,228.57 258.69,228.80 258.95,229.03 259.21,229.26 259.47,229.48 259.73,229.69 259.99,229.90 259.99,232.90 357.70,232.90 357.70,126.80" fill="#008cff"/>
<polygon points="246.80,126.80 246.80,214.29 249.80,214.29 250.10,214.99 250.40,215.66 250.70,216.31 251.00,216.93 251.30,217.53 251.60,218.11 251.90,218.66 252.20,219.20 252.50,219.72 252.80,220.23 253.10,220.71 253.40,221.18 253.70,221.64 253.99,222.08 254.29,222.51 254.59,222.93 254.89,223.33 255.19,223.72 255.49,224.10 255.79,224.47 256.09,224.83 256.39,225.17 256.69,225.51 256.99,225.84 257.29,226.16 257.59,226.48 257.89,226.78 258.19,227.08 258.49,227.37 258.79,227.65 259.09,227.92 259.39,228.19 259.69,228.45 259.99,228.71 260.29,228.96 260.59,229.20 260.89,229.44 261.19,229.67 261.49,229.90 261.49,232.90 357.70,232.90 357.70,126.80" fill="#009bff"/>
<polygon points="246.80,126.80 246.80,212.18 249.80,212.18 250.14,213.02 250.48,213.82 250.82,214.58 251.16,215.32 251.50,216.02 251.84,216.70 252.18,217.35 252.52,217.98 252.86,218.58 253.20,219.16 253.54,219.72 253.88,220.26 254.22,220.78 254.56,221.28 254.90,221.76 255.24,222.23 255.58,222.69 255.92,223.13 256.26,223.55 256.60,223.96 256.94,224.36 257.28,224.75 257.62,225.12 257.96,225.49 258.30,225.84 258.64,226.19 258.98,226.52 259.32,226.84 259.66,227.16 260.00,227.47 260.34,227.77 260.68,228.06 261.02,228.34 261.36,228.62 261.70,228.89 262.05,229.15 262.39,229.41 262.73,229.66 263.07,229.90 263.07,232.90 357.70,232.90 357.70,126.80" fill="#00aaff"/>
<polygon points="246.80,126.80 246.80,209.94 249.80,209.94 250.18,210.94 250.57,211.89 250.95,212.79 251.33,213.65 251.72,214.47 252.10,215.26 252.48,216.01 252.86,216.73 253.25,217.42 253.63,218.08 254.01,218.72 254.40,219.33 254.78,219.91 255.16,220.48 255.55,221.02 255.93,221.55 256.31,222.05 256.70,222.54 257.08,223.01 257.46,223.47 257.84,223.91 258.23,224.33 258.61,224.74 258.99,225.14 259.38,225.53 259.76,225.90 260.14,226.27 260.53,226.62 260.91,226.96 261.29,227.29 261.67,227.62 262.06,227.93 262.44,228.23 262.82,228.53 263.21,228.82 263.59,229.10 263.97,229.37 264.36,229.64 264.74,229.90 264.74,232.90 357.70,232.90 357.70,126.80" fill="#00b8ff"/>
<polygon points="246.80,126.80 246.80,207.57 249.80,207.57 250.23,208.75 250.66,209.86 251.09,210.92 251.51,211.92 251.94,212.87 252.37,213.77 252.80,214.64 253.23,215.46 253.66,216.24 254.09,216.99 254.51,217.71 254.94,218.39 255.37,219.05 255.80,219.68 256.23,220.28 256.66,220.87 257.09,221.43 257.51,221.96 257.94,222.48 258.37,222.98 258.80,223.46 259.23,223.93 259.66,224.37 260.08,224.81 260.51,225.23 260.94,225.63 261.37,226.02 261.80,226.40 262.23,226.77 262.66,227.13 263.08,227.47 263.51,227.81 263.94,228.13 264.37,228.45 264.80,228.76 265.23,229.05 265.66,229.34 266.08,229.63 266.51,229.90 266.51,232.90 357.70,232.90 357.70,126.80" fill="#00c7ff"/>
<polygon points="246.80,126.80 246.80,205.06 249.80,205.06 250.28,206.45 250.75,207.75 251.23,208.97 251.71,210.13 252.18,211.22 252.66,212.25 253.14,213.23 253.61,214.16 254.09,215.05 254.57,215.89 255.04,216.69 255.52,217.46 256.00,218.19 256.47,218.88 256.95,219.55 257.43,220.19 257.90,220.81 258.38,221.40 258.86,221.96 259.33,222.50 259.81,223.03 260.29,223.53 260.76,224.02 261.24,224.48 261.72,224.93 262.19,225.37 262.67,225.79 263.15,226.19 263.62,226.59 264.10,226.97 264.58,227.33 265.05,227.69 265.53,228.04 266.01,228.37 266.48,228.69 266.96,229.01 267.44,229.31 267.91,229.61 268.39,229.90 268.39,232.90 357.70,232.90 357.70,126.80" fill="#00d6ff"/>
<polygon points="246.80,126.80 246.80,202.41 249.80,202.41 250.33,204.02 250.86,205.53 251.38,206.95 251.91,208.27 252.44,209.52 252.97,210.69 253.49,211.80 254.02,212.85 254.55,213.84 255.08,214.78 255.60,215.67 256.13,216.52 256.66,217.33 257.19,218.10 257.72,218.83 258.24,219.53 258.77,220.20 259.30,220.84 259.83,221.45 260.35,222.04 260.88,222.60 261.41,223.15 261.94,223.67 262.46,224.17 262.99,224.65 263.52,225.12 264.05,225.56 264.58,226.00 265.10,226.41 265.63,226.81 266.16,227.20 266.69,227.58 267.21,227.94 267.74,228.30 268.27,228.64 268.80,228.97 269.33,229.29 269.85,229.60 270.38,229.90 270.38,232.90 357.70,232.90 357.70,126.80" fill="#00e4ff"/>
<polygon points="246.80,126.80 246.80,199.59 249.80,199.59 250.38,201.47 250.96,203.22 251.55,204.84 252.13,206.36 252.71,207.77 253.29,209.10 253.87,210.34 254.45,211.52 255.04,212.62 255.62,213.66 256.20,214.65 256.78,215.58 257.36,216.47 257.94,217.31 258.53,218.11 259.11,218.87 259.69,219.60 260.27,220.29 260.85,220.95 261.43,221.59 262.02,222.19 262.60,222.77 263.18,223.33 263.76,223.87 264.34,224.38 264.93,224.87 265.51,225.35 266.09,225.80 266.67,226.24 267.25,226.67 267.83,227.08 268.42,227.47 269.00,227.86 269.58,228.22 270.16,228.58 270.74,228.93 271.32,229.26 271.91,229.59 272.49,229.90 272.49,232.90 357.70,232.90 357.70,126.80" fill="#00f3ff"/>
<polygon points="246.80,126.80 246.80,196.61 249.80,196.61 250.44,198.79 251.08,200.80 251.72,202.65 252.36,204.38 252.99,205.98 253.63,207.47 254.27,208.86 254.91,210.17 255.55,211.39 256.19,212.54 256.83,213.63 257.47,214.65 258.11,215.62 258.75,216.54 259.38,217.40 260.02,218.23 260.66,219.01 261.30,219.76 261.94,220.47 262.58,221.15 263.22,221.79 263.86,222.41 264.50,223.00 265.14,223.57 265.77,224.12 266.41,224.64 267.05,225.14 267.69,225.62 268.33,226.08 268.97,226.53 269.61,226.96 270.25,227.37 270.89,227.77 271.53,228.16 272.16,228.53 272.80,228.89 273.44,229.24 274.08,229.57 274.72,229.90 274.72,232.90 357.70,232.90 357.70,126.80" fill="#00fffc"/>
<polygon points="246.80,126.80 246.80,193.45 249.80,193.45 250.50,195.97 251.20,198.27 251.90,200.39 252.60,202.34 253.30,204.14 254.00,205.81 254.70,207.36 255.40,208.80 256.10,210.16 256.80,211.42 257.50,212.61 258.20,213.73 258.89,214.78 259.59,215.77 260.29,216.71 260.99,217.59 261.69,218.44 262.39,219.23 263.09,219.99 263.79,220.72 264.49,221.40 265.19,222.06 265.89,222.69 266.59,223.29 267.29,223.86 267.99,224.41 268.69,224.94 269.39,225.44 270.09,225.93 270.79,226.40 271.49,226.84 272.19,227.28 272.89,227.69 273.59,228.09 274.29,228.48 274.99,228.85 275.69,229.21 276.39,229.56 277.08,229.90 277.08,232.90 357.70,232.90 357.70,126.80" fill="#00ffed"/>
<polygon points="246.80,126.80 246.80,190.10 249.80,190.10 250.56,193.00 251.33,195.64 252.09,198.04 252.86,200.23 253.62,202.25 254.38,204.11 255.15,205.83 255.91,207.43 256.67,208.91 257.44,210.30 258.20,211.59 258.97,212.80 259.73,213.94 260.49,215.01 261.26,216.02 262.02,216.97 262.79,217.87 263.55,218.72 264.31,219.53 265.08,220.30 265.84,221.03 266.60,221.72 267.37,222.38 268.13,223.02 268.90,223.62 269.66,224.19 270.42,224.75 271.19,225.28 271.95,225.78 272.71,226.27 273.48,226.74 274.24,227.19 275.01,227.62 275.77,228.03 276.53,228.43 277.30,228.82 278.06,229.19 278.83,229.55 279.59,229.90 279.59,232.90 357.70,232.90 357.70,126.80" fill="#00ffdf"/>
<polygon points="246.80,126.80 246.80,186.56 249.80,186.56 250.63,189.89 251.46,192.89 252.30,195.60 253.13,198.07 253.96,200.32 254.79,202.39 255.62,204.29 256.45,206.04 257.29,207.67 258.12,209.18 258.95,210.58 259.78,211.89 260.61,213.12 261.45,214.27 262.28,215.35 263.11,216.36 263.94,217.32 264.77,218.23 265.61,219.08 266.44,219.89 267.27,220.66 268.10,221.39 268.93,222.09 269.76,222.75 270.60,223.38 271.43,223.99 272.26,224.56 273.09,225.11 273.92,225.64 274.76,226.15 275.59,226.63 276.42,227.10 277.25,227.55 278.08,227.98 278.92,228.39 279.75,228.79 280.58,229.17 281.41,229.54 282.24,229.90 282.24,232.90 357.70,232.90 357.70,126.80" fill="#00ffd0"/>
<polygon points="246.80,126.80 246.80,182.80 249.80,182.80 250.70,186.62 251.61,190.03 252.51,193.09 253.42,195.85 254.32,198.36 255.22,200.64 256.13,202.73 257.03,204.65 257.94,206.42 258.84,208.06 259.74,209.57 260.65,210.99 261.55,212.30 262.45,213.53 263.36,214.68 264.26,215.77 265.17,216.78 266.07,217.74 266.97,218.65 267.88,219.50 268.78,220.31 269.69,221.08 270.59,221.81 271.49,222.50 272.40,223.16 273.30,223.79 274.21,224.39 275.11,224.96 276.01,225.51 276.92,226.03 277.82,226.53 278.73,227.02 279.63,227.48 280.53,227.92 281.44,228.35 282.34,228.76 283.25,229.15 284.15,229.53 285.05,229.90 285.05,232.90 357.70,232.90 357.70,126.80" fill="#00ffc1"/>
<polygon points="246.80,126.80 246.80,178.83 249.80,178.83 250.78,183.19 251.76,187.05 252.74,190.49 253.72,193.57 254.70,196.35 255.68,198.87 256.66,201.16 257.64,203.25 258.62,205.17 259.60,206.94 260.58,208.58 261.56,210.09 262.54,211.50 263.52,212.81 264.50,214.04 265.48,215.18 266.46,216.26 267.44,217.27 268.42,218.22 269.40,219.12 270.39,219.97 271.37,220.77 272.35,221.53 273.33,222.26 274.31,222.94 275.29,223.60 276.27,224.22 277.25,224.81 278.23,225.38 279.21,225.92 280.19,226.44 281.17,226.94 282.15,227.41 283.13,227.87 284.11,228.31 285.09,228.73 286.07,229.13 287.05,229.52 288.03,229.90 288.03,232.90 357.70,232.90 357.70,126.80" fill="#00ffb2"/>
<polygon points="246.80,126.80 246.80,174.61 249.80,174.61 250.86,179.59 251.92,183.96 252.98,187.81 254.04,191.24 255.11,194.30 256.17,197.07 257.23,199.57 258.29,201.85 259.35,203.93 260.41,205.83 261.47,207.59 262.53,209.21 263.59,210.71 264.66,212.10 265.72,213.40 266.78,214.61 267.84,215.75 268.90,216.81 269.96,217.81 271.02,218.75 272.08,219.64 273.14,220.48 274.21,221.27 275.27,222.02 276.33,222.74 277.39,223.41 278.45,224.06 279.51,224.67 280.57,225.26 281.63,225.82 282.69,226.35 283.76,226.86 284.82,227.35 285.88,227.82 286.94,228.27 288.00,228.70 289.06,229.12 290.12,229.52 291.18,229.90 291.18,232.90 357.70,232.90 357.70,126.80" fill="#00ffa4"/>
<polygon points="246.80,126.80 246.80,170.15 249.80,170.15 250.95,175.82 252.09,180.74 253.24,185.05 254.39,188.85 255.53,192.23 256.68,195.25 257.83,197.98 258.97,200.44 260.12,202.68 261.27,204.73 262.41,206.61 263.56,208.34 264.71,209.93 265.85,211.41 267.00,212.78 268.15,214.06 269.29,215.25 270.44,216.37 271.59,217.41 272.73,218.40 273.88,219.32 275.03,220.19 276.18,221.02 277.32,221.80 278.47,222.54 279.62,223.24 280.76,223.90 281.91,224.54 283.06,225.14 284.20,225.72 285.35,226.27 286.50,226.79 287.64,227.29 288.79,227.77 289.94,228.23 291.08,228.68 292.23,229.10 293.38,229.51 294.52,229.90 294.52,232.90 357.70,232.90 357.70,126.80" fill="#00ff95"/>
<polygon points="246.80,126.80 246.80,165.43 249.80,165.43 251.04,171.87 252.27,177.40 253.51,182.20 254.75,186.41 255.99,190.12 257.22,193.42 258.46,196.38 259.70,199.04 260.94,201.45 262.17,203.64 263.41,205.64 264.65,207.48 265.89,209.17 267.12,210.73 268.36,212.18 269.60,213.52 270.84,214.77 272.07,215.94 273.31,217.03 274.55,218.05 275.79,219.02 277.02,219.92 278.26,220.78 279.50,221.58 280.74,222.35 281.97,223.07 283.21,223.76 284.45,224.41 285.69,225.03 286.92,225.62 288.16,226.18 289.40,226.72 290.64,227.24 291.87,227.73 293.11,228.20 294.35,228.65 295.59,229.08 296.82,229.50 298.06,229.90 298.06,232.90 357.70,232.90 357.70,126.80" fill="#00ff86"/>
<polygon points="246.80,126.80 246.80,160.42 249.80,160.42 251.13,167.73 252.47,173.94 253.80,179.28 255.13,183.91 256.47,187.98 257.80,191.57 259.13,194.77 260.47,197.64 261.80,200.22 263.14,202.56 264.47,204.69 265.80,206.64 267.14,208.42 268.47,210.07 269.80,211.59 271.14,212.99 272.47,214.30 273.80,215.52 275.14,216.66 276.47,217.72 277.80,218.72 279.14,219.66 280.47,220.54 281.81,221.38 283.14,222.17 284.47,222.91 285.81,223.62 287.14,224.29 288.47,224.92 289.81,225.53 291.14,226.11 292.47,226.66 293.81,227.18 295.14,227.69 296.47,228.17 297.81,228.63 299.14,229.07 300.47,229.49 301.81,229.90 301.81,232.90 357.70,232.90 357.70,126.80" fill="#00ff77"/>
<polygon points="246.80,126.80 246.80,155.12 249.80,155.12 251.24,163.40 252.67,170.36 254.11,176.28 255.54,181.38 256.98,185.82 258.41,189.72 259.85,193.17 261.28,196.24 262.72,199.01 264.15,201.50 265.59,203.76 267.02,205.81 268.46,207.69 269.89,209.42 271.33,211.01 272.77,212.49 274.20,213.85 275.64,215.12 277.07,216.30 278.51,217.40 279.94,218.44 281.38,219.41 282.81,220.32 284.25,221.18 285.68,221.99 287.12,222.76 288.55,223.48 289.99,224.17 291.42,224.82 292.86,225.44 294.30,226.04 295.73,226.60 297.17,227.13 298.60,227.65 300.04,228.14 301.47,228.61 302.91,229.06 304.34,229.49 305.78,229.90 305.78,232.90 357.70,232.90 357.70,126.80" fill="#00ff69"/>
<polygon points="246.80,126.80 246.80,149.50 249.80,149.50 251.34,158.87 252.89,166.65 254.43,173.20 255.97,178.80 257.52,183.63 259.06,187.85 260.60,191.56 262.15,194.86 263.69,197.80 265.23,200.45 266.77,202.83 268.32,205.00 269.86,206.98 271.40,208.79 272.95,210.46 274.49,211.99 276.03,213.41 277.58,214.73 279.12,215.95 280.66,217.10 282.21,218.17 283.75,219.17 285.29,220.11 286.84,220.99 288.38,221.83 289.92,222.61 291.47,223.36 293.01,224.06 294.55,224.73 296.09,225.36 297.64,225.97 299.18,226.54 300.72,227.09 302.27,227.61 303.81,228.11 305.35,228.59 306.90,229.04 308.44,229.48 309.98,229.90 309.98,232.90 357.70,232.90 357.70,126.80" fill="#00ff5a"/>
<polygon points="246.80,126.80 246.80,143.55 249.80,143.55 251.46,154.14 253.11,162.82 254.77,170.05 256.43,176.17 258.09,181.43 259.74,185.98 261.40,189.96 263.06,193.48 264.72,196.61 266.37,199.41 268.03,201.93 269.69,204.21 271.35,206.28 273.00,208.18 274.66,209.91 276.32,211.51 277.98,212.99 279.63,214.35 281.29,215.62 282.95,216.80 284.60,217.90 286.26,218.94 287.92,219.90 289.58,220.81 291.23,221.67 292.89,222.47 294.55,223.23 296.21,223.95 297.86,224.64 299.52,225.28 301.18,225.90 302.84,226.49 304.49,227.04 306.15,227.57 307.81,228.08 309.46,228.57 311.12,229.03 312.78,229.47 314.44,229.90 314.44,232.90 357.70,232.90 357.70,126.80" fill="#00ff4b"/>
<polygon points="246.80,126.80 246.80,137.25 249.80,137.25 251.58,149.20 253.36,158.86 255.13,166.83 256.91,173.51 258.69,179.20 260.47,184.11 262.25,188.37 264.03,192.12 265.80,195.44 267.58,198.39 269.36,201.05 271.14,203.44 272.92,205.61 274.70,207.58 276.47,209.39 278.25,211.05 280.03,212.58 281.81,213.99 283.59,215.30 285.37,216.52 287.14,217.65 288.92,218.71 290.70,219.71 292.48,220.64 294.26,221.52 296.04,222.34 297.81,223.12 299.59,223.85 301.37,224.55 303.15,225.21 304.93,225.84 306.71,226.43 308.48,227.00 310.26,227.54 312.04,228.06 313.82,228.55 315.60,229.02 317.38,229.47 319.15,229.90 319.15,232.90 357.70,232.90 357.70,126.80" fill="#00ff3c"/>
<polygon points="246.80,126.80 246.80,130.57 249.80,130.57 251.71,144.04 253.61,154.78 255.52,163.54 257.43,170.82 259.33,176.97 261.24,182.23 263.15,186.79 265.05,190.77 266.96,194.28 268.86,197.39 270.77,200.18 272.68,202.68 274.58,204.95 276.49,207.00 278.40,208.88 280.30,210.60 282.21,212.18 284.12,213.64 286.02,214.99 287.93,216.25 289.84,217.41 291.74,218.50 293.65,219.52 295.56,220.47 297.46,221.37 299.37,222.21 301.27,223.01 303.18,223.76 305.09,224.47 306.99,225.14 308.90,225.78 310.81,226.38 312.71,226.96 314.62,227.51 316.53,228.03 318.43,228.53 320.34,229.01 322.25,229.46 324.15,229.90 324.15,232.90 357.70,232.90 357.70,126.80" fill="#00ff2e"/>
<polygon points="250.59,126.80 250.59,129.80 252.61,143.45 254.63,154.31 256.65,163.17 258.67,170.52 260.70,176.72 262.72,182.03 264.74,186.61 266.76,190.62 268.78,194.15 270.81,197.28 272.83,200.08 274.85,202.60 276.87,204.88 278.89,206.94 280.92,208.83 282.94,210.55 284.96,212.14 286.98,213.60 289.01,214.96 291.03,216.22 293.05,217.39 295.07,218.48 297.09,219.50 299.12,220.46 301.14,221.35 303.16,222.20 305.18,223.00 307.20,223.75 309.23,224.46 311.25,225.13 313.27,225.77 315.29,226.38 317.31,226.96 319.34,227.51 321.36,228.03 323.38,228.53 325.40,229.01 327.42,229.46 329.45,229.90 329.45,232.90 357.70,232.90 357.70,126.80" fill="#00ff1f"/>
<polygon points="251.52,126.80 251.52,129.80 253.66,143.45 255.80,154.31 257.95,163.17 260.09,170.52 262.23,176.72 264.37,182.03 266.51,186.61 268.66,190.62 270.80,194.15 272.94,197.28 275.08,200.08 277.22,202.60 279.37,204.88 281.51,206.94 283.65,208.83 285.79,210.55 287.93,212.14 290.07,213.60 292.22,214.96 294.36,216.22 296.50,217.39 298.64,218.48 300.78,219.50 302.93,220.46 305.07,221.35 307.21,222.20 309.35,223.00 311.49,223.75 313.63,224.46 315.78,225.13 317.92,225.77 320.06,226.38 322.20,226.96 324.34,227.51 326.49,228.03 328.63,228.53 330.77,229.01 332.91,229.46 335.05,229.90 335.05,232.90 357.70,232.90 357.70,126.80" fill="#00ff10"/>
<polygon points="252.51,126.80 252.51,129.80 254.78,143.45 257.05,154.31 259.32,163.17 261.59,170.52 263.85,176.72 266.12,182.03 268.39,186.61 270.66,190.62 272.93,194.15 275.20,197.28 277.47,200.08 279.74,202.60 282.00,204.88 284.27,206.94 286.54,208.83 288.81,210.55 291.08,212.14 293.35,213.60 295.62,214.96 297.89,216.22 300.15,217.39 302.42,218.48 304.69,219.50 306.96,220.46 309.23,221.35 311.50,222.20 313.77,223.00 316.04,223.75 318.31,224.46 320.57,225.13 322.84,225.77 325.11,226.38 327.38,226.96 329.65,227.51 331.92,228.03 334.19,228.53 336.46,229.01 338.72,229.46 340.99,229.90 340.99,232.90 357.70,232.90 357.70,126.80" fill="#00ff01"/>
<polygon points="253.56,126.80 253.56,129.80 255.96,143.45 258.37,154.31 260.77,163.17 263.17,170.52 265.58,176.72 267.98,182.03 270.38,186.61 272.78,190.62 275.19,194.15 277.59,197.28 279.99,200.08 282.40,202.60 284.80,204.88 287.20,206.94 289.61,208.83 292.01,210.55 294.41,212.14 296.82,213.60 299.22,214.96 301.62,216.22 304.03,217.39 306.43,218.48 308.83,219.50 311.24,220.46 313.64,221.35 316.04,222.20 318.45,223.00 320.85,223.75 323.25,224.46 325.66,225.13 328.06,225.77 330.46,226.38 332.87,226.96 335.27,227.51 337.67,228.03 340.07,228.53 342.48,229.01 344.88,229.46 347.28,229.90 347.28,232.90 357.70,232.90 357.70,126.80" fill="#0dff00"/>
<polygon points="254.67,126.80 254.67,129.80 257.22,143.45 259.76,154.31 262.31,163.17 264.85,170.52 267.40,176.72 269.94,182.03 272.49,186.61 275.03,190.62 277.58,194.15 280.13,197.28 282.67,200.08 285.22,202.60 287.76,204.88 290.31,206.94 292.85,208.83 295.40,210.55 297.95,212.14 300.49,213.60 303.04,214.96 305.58,216.22 308.13,217.39 310.67,218.48 313.22,219.50 315.76,220.46 318.31,221.35 320.86,222.20 323.40,223.00 325.95,223.75 328.49,224.46 331.04,225.13 333.58,225.77 336.13,226.38 338.68,226.96 341.22,227.51 343.77,228.03 346.31,228.53 348.86,229.01 351.40,229.46 353.95,229.90 353.95,232.90 357.70,232.90 357.70,126.80" fill="#1cff00"/>
<polygon points="255.85,126.80 255.85,129.80 258.38,142.72 260.92,153.13 263.45,161.70 265.99,168.87 268.52,174.97 271.05,180.21 273.59,184.77 276.12,188.76 278.66,192.30 281.19,195.45 283.73,198.27 286.26,200.81 288.80,203.12 291.33,205.22 293.87,207.14 296.40,208.90 298.94,210.52 301.47,212.02 304.01,213.41 306.54,214.70 309.08,215.90 311.61,217.02 314.14,218.07 316.68,219.06 319.21,219.99 321.75,220.86 324.28,221.68 326.82,222.46 329.35,223.20 331.89,223.89 334.42,224.56 336.96,225.19 339.49,225.78 342.03,226.36 344.56,226.90 347.10,227.42 349.63,227.92 352.17,228.39 354.70,228.85 357.70,228.85 357.70,126.80" fill="#2bff00"/>
<polygon points="257.09,126.80 257.09,129.80 259.60,141.93 262.10,151.84 264.60,160.08 267.10,167.04 269.61,173.00 272.11,178.17 274.61,182.68 277.11,186.66 279.62,190.19 282.12,193.35 284.62,196.19 287.13,198.76 289.63,201.10 292.13,203.23 294.63,205.18 297.14,206.98 299.64,208.64 302.14,210.17 304.65,211.60 307.15,212.92 309.65,214.16 312.15,215.32 314.66,216.40 317.16,217.42 319.66,218.38 322.16,219.28 324.67,220.14 327.17,220.94 329.67,221.71 332.18,222.43 334.68,223.12 337.18,223.78 339.68,224.40 342.19,225.00 344.69,225.56 347.19,226.11 349.69,226.63 352.20,227.12 354.70,227.60 357.70,227.60 357.70,126.80" fill="#39ff00"/>
<polygon points="258.41,126.80 258.41,129.80 260.88,141.18 263.35,150.58 265.82,158.49 268.29,165.24 270.76,171.05 273.23,176.12 275.70,180.58 278.16,184.53 280.63,188.05 283.10,191.22 285.57,194.07 288.04,196.66 290.51,199.02 292.98,201.18 295.45,203.17 297.92,205.00 300.38,206.69 302.85,208.26 305.32,209.72 307.79,211.08 310.26,212.35 312.73,213.54 315.20,214.66 317.67,215.71 320.14,216.70 322.60,217.63 325.07,218.51 327.54,219.35 330.01,220.14 332.48,220.90 334.95,221.61 337.42,222.29 339.89,222.94 342.36,223.56 344.82,224.15 347.29,224.72 349.76,225.26 352.23,225.78 354.70,226.28 357.70,226.28 357.70,126.80" fill="#48ff00"/>
<polygon points="259.81,126.80 259.81,129.80 262.24,140.45 264.68,149.37 267.11,156.95 269.54,163.46 271.98,169.12 274.41,174.09 276.84,178.48 279.28,182.39 281.71,185.89 284.14,189.05 286.57,191.91 289.01,194.51 291.44,196.89 293.87,199.08 296.31,201.09 298.74,202.95 301.17,204.67 303.61,206.27 306.04,207.76 308.47,209.16 310.91,210.46 313.34,211.68 315.77,212.83 318.20,213.91 320.64,214.93 323.07,215.90 325.50,216.81 327.94,217.68 330.37,218.50 332.80,219.28 335.24,220.02 337.67,220.73 340.10,221.40 342.53,222.05 344.97,222.66 347.40,223.25 349.83,223.81 352.27,224.36 354.70,224.87 357.70,224.87 357.70,126.80" fill="#57ff00"/>
<polygon points="261.29,126.80 261.29,129.80 263.69,139.76 266.08,148.20 268.48,155.44 270.87,161.71 273.27,167.21 275.66,172.06 278.06,176.37 280.45,180.23 282.85,183.71 285.24,186.85 287.64,189.71 290.03,192.32 292.43,194.72 294.82,196.92 297.22,198.95 299.61,200.84 302.01,202.59 304.40,204.22 306.80,205.74 309.19,207.16 311.59,208.49 313.98,209.75 316.38,210.93 318.77,212.04 321.17,213.09 323.56,214.08 325.96,215.02 328.35,215.92 330.75,216.77 333.14,217.57 335.54,218.34 337.93,219.08 340.33,219.78 342.72,220.45 345.12,221.09 347.51,221.70 349.91,222.29 352.30,222.85 354.70,223.39 357.70,223.39 357.70,126.80" fill="#66ff00"/>
<polygon points="262.86,126.80 262.86,129.80 265.22,139.10 267.57,147.07 269.93,153.97 272.28,160.00 274.64,165.32 276.99,170.04 279.35,174.26 281.70,178.06 284.05,181.50 286.41,184.62 288.76,187.47 291.12,190.09 293.47,192.49 295.83,194.70 298.18,196.76 300.54,198.66 302.89,200.43 305.25,202.09 307.60,203.64 309.96,205.09 312.31,206.45 314.67,207.73 317.02,208.94 319.38,210.08 321.73,211.16 324.09,212.18 326.44,213.15 328.80,214.07 331.15,214.95 333.51,215.78 335.86,216.58 338.22,217.34 340.57,218.06 342.93,218.76 345.28,219.42 347.64,220.06 349.99,220.67 352.35,221.26 354.70,221.82 357.70,221.82 357.70,126.80" fill="#74ff00"/>
<polygon points="264.52,126.80 264.52,129.80 266.84,138.47 269.15,145.98 271.46,152.54 273.77,158.32 276.08,163.45 278.40,168.04 280.71,172.16 283.02,175.89 285.33,179.28 287.65,182.37 289.96,185.20 292.27,187.81 294.58,190.21 296.89,192.44 299.21,194.50 301.52,196.42 303.83,198.21 306.14,199.89 308.46,201.46 310.77,202.94 313.08,204.32 315.39,205.63 317.70,206.87 320.02,208.04 322.33,209.14 324.64,210.19 326.95,211.19 329.27,212.14 331.58,213.04 333.89,213.90 336.20,214.72 338.51,215.51 340.83,216.26 343.14,216.98 345.45,217.66 347.76,218.32 350.08,218.96 352.39,219.57 354.70,220.15 357.70,220.15 357.70,126.80" fill="#83ff00"/>
<polygon points="266.28,126.80 266.28,129.80 268.55,137.87 270.82,144.93 273.08,151.15 275.35,156.67 277.62,161.61 279.89,166.05 282.15,170.07 284.42,173.72 286.69,177.05 288.95,180.10 291.22,182.91 293.49,185.50 295.76,187.89 298.02,190.12 300.29,192.19 302.56,194.12 304.82,195.93 307.09,197.62 309.36,199.21 311.63,200.71 313.89,202.12 316.16,203.45 318.43,204.71 320.69,205.90 322.96,207.04 325.23,208.11 327.49,209.13 329.76,210.11 332.03,211.04 334.30,211.92 336.56,212.77 338.83,213.58 341.10,214.35 343.36,215.10 345.63,215.81 347.90,216.49 350.17,217.15 352.43,217.78 354.70,218.39 357.70,218.39 357.70,126.80" fill="#92ff00"/>
<polygon points="268.15,126.80 268.15,129.80 270.37,137.30 272.59,143.92 274.81,149.80 277.03,155.06 279.24,159.80 281.46,164.09 283.68,167.99 285.90,171.54 288.12,174.81 290.34,177.81 292.56,180.58 294.78,183.15 297.00,185.53 299.22,187.75 301.44,189.82 303.66,191.76 305.88,193.57 308.10,195.28 310.31,196.89 312.53,198.40 314.75,199.83 316.97,201.18 319.19,202.47 321.41,203.68 323.63,204.84 325.85,205.94 328.07,206.98 330.29,207.98 332.51,208.93 334.73,209.84 336.95,210.71 339.17,211.55 341.38,212.35 343.60,213.11 345.82,213.85 348.04,214.56 350.26,215.24 352.48,215.89 354.70,216.52 357.70,216.52 357.70,126.80" fill="#a1ff00"/>
<polygon points="270.12,126.80 270.12,129.80 272.29,136.75 274.46,142.94 276.63,148.49 278.80,153.49 280.97,158.02 283.14,162.15 285.30,165.92 287.47,169.38 289.64,172.56 291.81,175.50 293.98,178.23 296.15,180.77 298.32,183.13 300.48,185.33 302.65,187.40 304.82,189.34 306.99,191.16 309.16,192.87 311.33,194.49 313.50,196.02 315.66,197.46 317.83,198.83 320.00,200.13 322.17,201.37 324.34,202.54 326.51,203.66 328.68,204.73 330.85,205.75 333.01,206.73 335.18,207.66 337.35,208.56 339.52,209.41 341.69,210.23 343.86,211.02 346.03,211.78 348.19,212.51 350.36,213.21 352.53,213.89 354.70,214.54 357.70,214.54 357.70,126.80" fill="#afff00"/>
<polygon points="272.22,126.80 272.22,129.80 274.33,136.23 276.45,142.00 278.56,147.22 280.68,151.96 282.79,156.28 284.91,160.23 287.02,163.86 289.14,167.21 291.25,170.31 293.37,173.19 295.48,175.86 297.60,178.36 299.71,180.69 301.83,182.88 303.94,184.93 306.06,186.86 308.17,188.68 310.29,190.39 312.40,192.01 314.52,193.55 316.63,195.01 318.75,196.39 320.86,197.71 322.98,198.96 325.09,200.15 327.21,201.29 329.32,202.38 331.44,203.42 333.55,204.42 335.67,205.37 337.78,206.29 339.90,207.17 342.01,208.01 344.13,208.82 346.24,209.60 348.36,210.35 350.47,211.08 352.59,211.77 354.70,212.45 357.70,212.45 357.70,126.80" fill="#beff00"/>
<polygon points="274.43,126.80 274.43,129.80 276.49,135.73 278.55,141.11 280.61,146.00 282.66,150.47 284.72,154.57 286.78,158.34 288.84,161.83 290.90,165.07 292.96,168.07 295.01,170.87 297.07,173.48 299.13,175.93 301.19,178.22 303.25,180.38 305.30,182.41 307.36,184.32 309.42,186.13 311.48,187.85 313.54,189.47 315.59,191.01 317.65,192.47 319.71,193.87 321.77,195.19 323.83,196.46 325.89,197.67 327.94,198.82 330.00,199.93 332.06,200.98 334.12,202.00 336.18,202.97 338.23,203.91 340.29,204.80 342.35,205.67 344.41,206.50 346.47,207.30 348.53,208.07 350.58,208.81 352.64,209.53 354.70,210.23 357.70,210.23 357.70,126.80" fill="#cdff00"/>
<polygon points="276.78,126.80 276.78,129.80 278.78,135.26 280.78,140.24 282.77,144.81 284.77,149.02 286.77,152.90 288.77,156.49 290.76,159.83 292.76,162.93 294.76,165.83 296.76,168.54 298.76,171.09 300.75,173.48 302.75,175.72 304.75,177.84 306.75,179.84 308.75,181.74 310.74,183.53 312.74,185.23 314.74,186.85 316.74,188.39 318.74,189.85 320.73,191.25 322.73,192.58 324.73,193.86 326.73,195.08 328.73,196.24 330.72,197.36 332.72,198.43 334.72,199.46 336.72,200.45 338.72,201.40 340.71,202.32 342.71,203.20 344.71,204.05 346.71,204.87 348.71,205.66 350.70,206.42 352.70,207.16 354.70,207.87 357.70,207.87 357.70,126.80" fill="#dcff00"/>
<polygon points="279.27,126.80 279.27,129.80 281.20,134.81 283.13,139.42 285.07,143.67 287.00,147.61 288.94,151.26 290.87,154.67 292.81,157.85 294.74,160.82 296.67,163.60 298.61,166.22 300.54,168.68 302.48,171.01 304.41,173.20 306.34,175.27 308.28,177.24 310.21,179.10 312.15,180.87 314.08,182.56 316.02,184.16 317.95,185.69 319.88,187.15 321.82,188.55 323.75,189.88 325.69,191.16 327.62,192.39 329.56,193.56 331.49,194.69 333.42,195.77 335.36,196.81 337.29,197.82 339.23,198.78 341.16,199.71 343.09,200.61 345.03,201.47 346.96,202.31 348.90,203.12 350.83,203.90 352.77,204.65 354.70,205.38 357.70,205.38 357.70,126.80" fill="#eaff00"/>
<polygon points="281.90,126.80 281.90,129.80 283.77,134.38 285.63,138.62 287.50,142.57 289.37,146.24 291.23,149.67 293.10,152.88 294.97,155.89 296.83,158.72 298.70,161.39 300.57,163.90 302.43,166.28 304.30,168.52 306.17,170.65 308.03,172.67 309.90,174.59 311.77,176.42 313.63,178.16 315.50,179.82 317.37,181.41 319.23,182.92 321.10,184.37 322.97,185.76 324.83,187.09 326.70,188.37 328.57,189.59 330.43,190.77 332.30,191.90 334.17,192.99 336.03,194.04 337.90,195.05 339.77,196.03 341.63,196.97 343.50,197.88 345.37,198.76 347.23,199.61 349.10,200.43 350.97,201.23 352.83,202.00 354.70,202.74 357.70,202.74 357.70,126.80" fill="#f9ff00"/>
<polygon points="284.69,126.80 284.69,129.80 286.48,133.97 288.28,137.87 290.08,141.51 291.87,144.92 293.67,148.12 295.46,151.13 297.26,153.97 299.05,156.65 300.85,159.19 302.64,161.59 304.44,163.87 306.23,166.03 308.03,168.09 309.82,170.05 311.62,171.91 313.41,173.70 315.21,175.40 317.00,177.03 318.80,178.58 320.59,180.08 322.39,181.51 324.18,182.88 325.98,184.20 327.77,185.47 329.57,186.69 331.36,187.87 333.16,189.00 334.95,190.09 336.75,191.15 338.54,192.16 340.34,193.15 342.13,194.10 343.93,195.01 345.72,195.90 347.52,196.76 349.31,197.60 351.11,198.40 352.90,199.19 354.70,199.95 357.70,199.95 357.70,126.80" fill="#fff600"/>
<polygon points="287.64,126.80 287.64,129.80 289.36,133.59 291.08,137.14 292.80,140.48 294.52,143.64 296.24,146.61 297.96,149.42 299.68,152.09 301.40,154.61 303.12,157.01 304.84,159.29 306.56,161.47 308.28,163.54 310.00,165.51 311.72,167.40 313.44,169.20 315.15,170.93 316.87,172.59 318.59,174.17 320.31,175.70 322.03,177.16 323.75,178.57 325.47,179.92 327.19,181.22 328.91,182.48 330.63,183.69 332.35,184.86 334.07,185.98 335.79,187.07 337.51,188.12 339.23,189.14 340.95,190.13 342.66,191.08 344.38,192.00 346.10,192.90 347.82,193.76 349.54,194.61 351.26,195.42 352.98,196.22 354.70,196.99 357.70,196.99 357.70,126.80" fill="#ffe700"/>
<polygon points="290.78,126.80 290.78,129.80 292.41,133.22 294.05,136.45 295.69,139.50 297.33,142.40 298.97,145.14 300.61,147.75 302.25,150.24 303.89,152.60 305.53,154.86 307.17,157.01 308.81,159.07 310.44,161.04 312.08,162.92 313.72,164.73 315.36,166.47 317.00,168.13 318.64,169.73 320.28,171.27 321.92,172.75 323.56,174.17 325.20,175.55 326.84,176.87 328.47,178.15 330.11,179.38 331.75,180.58 333.39,181.73 335.03,182.84 336.67,183.92 338.31,184.97 339.95,185.98 341.59,186.96 343.23,187.92 344.87,188.84 346.50,189.74 348.14,190.61 349.78,191.45 351.42,192.27 353.06,193.07 354.70,193.85 357.70,193.85 357.70,126.80" fill="#ffd900"/>
<polygon points="294.09,126.80 294.09,129.80 295.65,132.87 297.20,135.78 298.75,138.56 300.31,141.20 301.86,143.72 303.42,146.13 304.97,148.43 306.52,150.63 308.08,152.73 309.63,154.75 311.19,156.69 312.74,158.55 314.29,160.33 315.85,162.05 317.40,163.70 318.96,165.30 320.51,166.83 322.06,168.31 323.62,169.74 325.17,171.12 326.73,172.45 328.28,173.74 329.83,174.99 331.39,176.19 332.94,177.36 334.50,178.49 336.05,179.59 337.61,180.65 339.16,181.68 340.71,182.68 342.27,183.66 343.82,184.60 345.38,185.52 346.93,186.41 348.48,187.28 350.04,188.12 351.59,188.95 353.15,189.75 354.70,190.53 357.70,190.53 357.70,126.80" fill="#ffca00"/>
<polygon points="297.60,126.80 297.60,129.80 299.07,132.54 300.53,135.15 302.00,137.65 303.46,140.05 304.92,142.34 306.39,144.54 307.85,146.65 309.32,148.68 310.78,150.63 312.24,152.51 313.71,154.32 315.17,156.06 316.64,157.74 318.10,159.36 319.56,160.93 321.03,162.44 322.49,163.90 323.96,165.31 325.42,166.68 326.88,168.00 328.35,169.28 329.81,170.53 331.28,171.73 332.74,172.90 334.20,174.03 335.67,175.14 337.13,176.21 338.60,177.25 340.06,178.26 341.52,179.24 342.99,180.20 344.45,181.13 345.92,182.03 347.38,182.92 348.84,183.78 350.31,184.62 351.77,185.43 353.24,186.23 354.70,187.01 357.70,187.01 357.70,126.80" fill="#ffbb00"/>
<polygon points="301.32,126.80 301.32,129.80 302.69,132.22 304.06,134.55 305.43,136.78 306.80,138.94 308.17,141.01 309.54,143.00 310.90,144.92 312.27,146.78 313.64,148.57 315.01,150.30 316.38,151.97 317.75,153.59 319.12,155.15 320.48,156.67 321.85,158.13 323.22,159.55 324.59,160.93 325.96,162.27 327.33,163.56 328.70,164.82 330.06,166.04 331.43,167.23 332.80,168.39 334.17,169.51 335.54,170.60 336.91,171.67 338.28,172.70 339.65,173.71 341.01,174.69 342.38,175.65 343.75,176.58 345.12,177.49 346.49,178.38 347.86,179.25 349.23,180.09 350.59,180.92 351.96,181.72 353.33,182.51 354.70,183.28 357.70,183.28 357.70,126.80" fill="#ffac00"/>
<polygon points="305.27,126.80 305.27,129.80 306.53,131.92 307.80,133.97 309.07,135.95 310.34,137.86 311.60,139.71 312.87,141.50 314.14,143.24 315.41,144.91 316.67,146.54 317.94,148.12 319.21,149.65 320.48,151.13 321.74,152.57 323.01,153.97 324.28,155.33 325.55,156.65 326.81,157.94 328.08,159.19 329.35,160.40 330.62,161.59 331.88,162.74 333.15,163.86 334.42,164.96 335.69,166.03 336.95,167.07 338.22,168.08 339.49,169.07 340.76,170.04 342.02,170.99 343.29,171.91 344.56,172.81 345.83,173.69 347.09,174.55 348.36,175.39 349.63,176.21 350.90,177.02 352.16,177.81 353.43,178.58 354.70,179.33 357.70,179.33 357.70,126.80" fill="#ff9e00"/>
<polygon points="309.44,126.80 309.44,129.80 310.60,131.64 311.76,133.42 312.92,135.15 314.08,136.83 315.24,138.47 316.40,140.05 317.56,141.59 318.72,143.09 319.88,144.55 321.04,145.97 322.21,147.35 323.37,148.69 324.53,150.00 325.69,151.28 326.85,152.52 328.01,153.73 329.17,154.92 330.33,156.07 331.49,157.20 332.65,158.30 333.81,159.37 334.97,160.42 336.13,161.45 337.29,162.45 338.45,163.43 339.61,164.38 340.77,165.32 341.93,166.24 343.09,167.14 344.26,168.01 345.42,168.87 346.58,169.71 347.74,170.54 348.90,171.35 350.06,172.14 351.22,172.91 352.38,173.67 353.54,174.42 354.70,175.15 357.70,175.15 357.70,126.80" fill="#ff8f00"/>
<polygon points="313.86,126.80 313.86,129.80 314.91,131.37 315.96,132.90 317.00,134.39 318.05,135.84 319.10,137.26 320.14,138.64 321.19,139.99 322.24,141.31 323.29,142.60 324.33,143.85 325.38,145.08 326.43,146.28 327.47,147.45 328.52,148.59 329.57,149.71 330.62,150.81 331.66,151.88 332.71,152.93 333.76,153.95 334.80,154.96 335.85,155.94 336.90,156.91 337.95,157.85 338.99,158.78 340.04,159.68 341.09,160.57 342.13,161.44 343.18,162.30 344.23,163.14 345.28,163.96 346.32,164.77 347.37,165.56 348.42,166.34 349.46,167.10 350.51,167.85 351.56,168.59 352.61,169.31 353.65,170.02 354.70,170.72 357.70,170.72 357.70,126.80" fill="#ff8000"/>
<polygon points="318.55,126.80 318.55,129.80 319.47,131.12 320.40,132.40 321.33,133.66 322.25,134.89 323.18,136.10 324.11,137.28 325.03,138.44 325.96,139.57 326.89,140.68 327.82,141.77 328.74,142.84 329.67,143.89 330.60,144.91 331.52,145.92 332.45,146.91 333.38,147.88 334.30,148.83 335.23,149.76 336.16,150.68 337.09,151.58 338.01,152.46 338.94,153.33 339.87,154.18 340.79,155.02 341.72,155.84 342.65,156.65 343.58,157.44 344.50,158.23 345.43,158.99 346.36,159.75 347.28,160.49 348.21,161.22 349.14,161.94 350.06,162.65 350.99,163.35 351.92,164.03 352.85,164.71 353.77,165.37 354.70,166.03 357.70,166.03 357.70,126.80" fill="#ff7100"/>
<polygon points="323.51,126.80 323.51,129.80 324.31,130.87 325.11,131.93 325.91,132.96 326.71,133.98 327.51,134.98 328.31,135.97 329.11,136.93 329.91,137.88 330.71,138.82 331.50,139.74 332.30,140.64 333.10,141.53 333.90,142.40 334.70,143.27 335.50,144.11 336.30,144.95 337.10,145.77 337.90,146.58 338.70,147.37 339.50,148.15 340.30,148.93 341.10,149.69 341.90,150.43 342.70,151.17 343.50,151.90 344.30,152.62 345.10,153.32 345.90,154.02 346.70,154.70 347.50,155.38 348.30,156.04 349.10,156.70 349.90,157.35 350.70,157.99 351.50,158.62 352.30,159.24 353.10,159.85 353.90,160.46 354.70,161.05 357.70,161.05 357.70,126.80" fill="#ff6300"/>
<polygon points="328.76,126.80 328.76,129.80 329.43,130.64 330.09,131.48 330.76,132.30 331.42,133.11 332.09,133.91 332.75,134.69 333.42,135.47 334.08,136.24 334.75,136.99 335.41,137.74 336.08,138.48 336.74,139.21 337.41,139.92 338.07,140.63 338.74,141.33 339.40,142.02 340.07,142.70 340.73,143.38 341.40,144.04 342.06,144.70 342.73,145.35 343.39,145.99 344.06,146.62 344.72,147.24 345.39,147.86 346.05,148.47 346.72,149.08 347.38,149.67 348.05,150.26 348.71,150.84 349.38,151.42 350.04,151.99 350.71,152.55 351.37,153.10 352.04,153.65 352.70,154.20 353.37,154.73 354.03,155.26 354.70,155.79 357.70,155.79 357.70,126.80" fill="#ff5400"/>
<polygon points="334.33,126.80 334.33,129.80 334.85,130.43 335.37,131.05 335.90,131.66 336.42,132.27 336.94,132.87 337.46,133.47 337.99,134.06 338.51,134.64 339.03,135.22 339.55,135.79 340.07,136.36 340.60,136.92 341.12,137.47 341.64,138.02 342.16,138.57 342.69,139.11 343.21,139.64 343.73,140.17 344.25,140.69 344.78,141.21 345.30,141.73 345.82,142.24 346.34,142.74 346.86,143.24 347.39,143.73 347.91,144.22 348.43,144.71 348.95,145.19 349.48,145.67 350.00,146.14 350.52,146.61 351.04,147.07 351.57,147.53 352.09,147.99 352.61,148.44 353.13,148.89 353.66,149.33 354.18,149.77 354.70,150.21 357.70,150.21 357.70,126.80" fill="#ff4500"/>
<polygon points="340.23,126.80 340.23,129.80 340.60,130.22 340.97,130.64 341.34,131.06 341.71,131.47 342.08,131.88 342.45,132.29 342.82,132.69 343.19,133.09 343.57,133.49 343.94,133.89 344.31,134.28 344.68,134.67 345.05,135.06 345.42,135.44 345.79,135.83 346.16,136.21 346.53,136.58 346.91,136.96 347.28,137.33 347.65,137.70 348.02,138.07 348.39,138.44 348.76,138.80 349.13,139.16 349.50,139.52 349.88,139.87 350.25,140.23 350.62,140.58 350.99,140.93 351.36,141.28 351.73,141.62 352.10,141.96 352.47,142.30 352.84,142.64 353.22,142.98 353.59,143.31 353.96,143.64 354.33,143.98 354.70,144.30 357.70,144.30 357.70,126.80" fill="#ff3700"/>
<polygon points="346.47,126.80 346.47,129.80 346.68,130.03 346.89,130.25 347.10,130.48 347.32,130.70 347.53,130.92 347.74,131.15 347.95,131.37 348.16,131.59 348.37,131.81 348.58,132.03 348.79,132.25 349.00,132.46 349.21,132.68 349.43,132.90 349.64,133.11 349.85,133.33 350.06,133.54 350.27,133.75 350.48,133.96 350.69,134.17 350.90,134.38 351.11,134.59 351.32,134.80 351.54,135.01 351.75,135.22 351.96,135.43 352.17,135.63 352.38,135.84 352.59,136.04 352.80,136.24 353.01,136.45 353.22,136.65 353.43,136.85 353.65,137.05 353.86,137.25 354.07,137.45 354.28,137.65 354.49,137.85 354.70,138.04 357.70,138.04 357.70,126.80" fill="#ff2800"/>
<polygon points="353.09,126.80 353.09,129.80 353.13,129.84 353.17,129.88 353.21,129.93 353.25,129.97 353.29,130.01 353.34,130.05 353.38,130.09 353.42,130.14 353.46,130.18 353.50,130.22 353.54,130.26 353.58,130.30 353.62,130.34 353.67,130.39 353.71,130.43 353.75,130.47 353.79,130.51 353.83,130.55 353.87,130.59 353.91,130.63 353.96,130.68 354.00,130.72 354.04,130.76 354.08,130.80 354.12,130.84 354.16,130.88 354.20,130.92 354.25,130.96 354.29,131.01 354.33,131.05 354.37,131.09 354.41,131.13 354.45,131.17 354.49,131.21 354.53,131.25 354.58,131.29 354.62,131.33 354.66,131.37 354.70,131.42 357.70,131.42 357.70,126.80" fill="#ff1900"/>
</g>
<polyline points="260.69,129.80 262.28,136.77 263.88,142.97 265.47,148.53 267.06,153.54 268.66,158.08 270.25,162.21 271.84,165.98 273.44,169.45 275.03,172.63 276.62,175.58 278.22,178.31 279.81,180.84 281.40,183.21 283.00,185.41 284.59,187.48 286.18,189.41 287.78,191.23 289.37,192.95 290.96,194.57 292.56,196.09 294.15,197.54 295.74,198.91 297.34,200.21 298.93,201.44 300.52,202.62 302.12,203.74 303.71,204.81 305.30,205.83 306.90,206.80 308.49,207.73 310.08,208.63 311.68,209.48 313.27,210.30 314.87,211.09 316.46,211.85 318.05,212.58 319.65,213.28 321.24,213.96 322.83,214.61 324.43,215.24 326.02,215.84 327.61,216.43 329.21,216.99 330.80,217.54 332.39,218.07 333.99,218.58 335.58,219.07 337.17,219.55 338.77,220.02 340.36,220.47 341.95,220.91 343.55,221.33 345.14,221.75 346.73,222.15 348.33,222.54 349.92,222.92 351.51,223.29 353.11,223.64 354.70,223.99" fill="none" stroke="#111" stroke-width="1.1" stroke-dasharray="2.6 2.0"/>
<rect x="249.80" y="129.80" width="104.90" height="100.10" fill="none" stroke="#8a8080" stroke-width="0.6"/>
<line x1="249.80" y1="229.90" x2="251.20" y2="229.90" stroke="#333" stroke-width="0.5"/>
<line x1="354.70" y1="229.90" x2="353.30" y2="229.90" stroke="#333" stroke-width="0.5"/>
<line x1="249.80" y1="219.89" x2="250.60" y2="219.89" stroke="#333" stroke-width="0.5"/>
<line x1="354.70" y1="219.89" x2="353.90" y2="219.89" stroke="#333" stroke-width="0.5"/>
<line x1="249.80" y1="209.88" x2="251.20" y2="209.88" stroke="#333" stroke-width="0.5"/>
<line x1="354.70" y1="209.88" x2="353.30" y2="209.88" stroke="#333" stroke-width="0.5"/>
<line x1="249.80" y1="199.87" x2="250.60" y2="199.87" stroke="#333" stroke-width="0.5"/>
<line x1="354.70" y1="199.87" x2="353.90" y2="199.87" stroke="#333" stroke-width="0.5"/>
<line x1="249.80" y1="189.86" x2="251.20" y2="189.86" stroke="#333" stroke-width="0.5"/>
<line x1="354.70" y1="189.86" x2="353.30" y2="189.86" stroke="#333" stroke-width="0.5"/>
<line x1="249.80" y1="179.85" x2="250.60" y2="179.85" stroke="#333" stroke-width="0.5"/>
<line x1="354.70" y1="179.85" x2="353.90" y2="179.85" stroke="#333" stroke-width="0.5"/>
<line x1="249.80" y1="169.84" x2="251.20" y2="169.84" stroke="#333" stroke-width="0.5"/>
<line x1="354.70" y1="169.84" x2="353.30" y2="169.84" stroke="#333" stroke-width="0.5"/>
<line x1="249.80" y1="159.83" x2="250.60" y2="159.83" stroke="#333" stroke-width="0.5"/>
<line x1="354.70" y1="159.83" x2="353.90" y2="159.83" stroke="#333" stroke-width="0.5"/>
<line x1="249.80" y1="149.82" x2="251.20" y2="149.82" stroke="#333" stroke-width="0.5"/>
<line x1="354.70" y1="149.82" x2="353.30" y2="149.82" stroke="#333" stroke-width="0.5"/>
<line x1="249.80" y1="139.81" x2="250.60" y2="139.81" stroke="#333" stroke-width="0.5"/>
<line x1="354.70" y1="139.81" x2="353.90" y2="139.81" stroke="#333" stroke-width="0.5"/>
<line x1="249.80" y1="129.80" x2="251.20" y2="129.80" stroke="#333" stroke-width="0.5"/>
<line x1="354.70" y1="129.80" x2="353.30" y2="129.80" stroke="#333" stroke-width="0.5"/>
<line x1="249.80" y1="229.90" x2="249.80" y2="228.50" stroke="#333" stroke-width="0.5"/>
<line x1="249.80" y1="129.80" x2="249.80" y2="131.20" stroke="#333" stroke-width="0.5"/>
<line x1="257.29" y1="229.90" x2="257.29" y2="229.10" stroke="#333" stroke-width="0.5"/>
<line x1="257.29" y1="129.80" x2="257.29" y2="130.60" stroke="#333" stroke-width="0.5"/>
<line x1="264.79" y1="229.90" x2="264.79" y2="228.50" stroke="#333" stroke-width="0.5"/>
<line x1="264.79" y1="129.80" x2="264.79" y2="131.20" stroke="#333" stroke-width="0.5"/>
<line x1="272.28" y1="229.90" x2="272.28" y2="229.10" stroke="#333" stroke-width="0.5"/>
<line x1="272.28" y1="129.80" x2="272.28" y2="130.60" stroke="#333" stroke-width="0.5"/>
<line x1="279.77" y1="229.90" x2="279.77" y2="228.50" stroke="#333" stroke-width="0.5"/>
<line x1="279.77" y1="129.80" x2="279.77" y2="131.20" stroke="#333" stroke-width="0.5"/>
<line x1="287.26" y1="229.90" x2="287.26" y2="229.10" stroke="#333" stroke-width="0.5"/>
<line x1="287.26" y1="129.80" x2="287.26" y2="130.60" stroke="#333" stroke-width="0.5"/>
<line x1="294.76" y1="229.90" x2="294.76" y2="228.50" stroke="#333" stroke-width="0.5"/>
<line x1="294.76" y1="129.80" x2="294.76" y2="131.20" stroke="#333" stroke-width="0.5"/>
<line x1="302.25" y1="229.90" x2="302.25" y2="229.10" stroke="#333" stroke-width="0.5"/>
<line x1="302.25" y1="129.80" x2="302.25" y2="130.60" stroke="#333" stroke-width="0.5"/>
<line x1="309.74" y1="229.90" x2="309.74" y2="228.50" stroke="#333" stroke-width="0.5"/>
<line x1="309.74" y1="129.80" x2="309.74" y2="131.20" stroke="#333" stroke-width="0.5"/>
<line x1="317.24" y1="229.90" x2="317.24" y2="229.10" stroke="#333" stroke-width="0.5"/>
<line x1="317.24" y1="129.80" x2="317.24" y2="130.60" stroke="#333" stroke-width="0.5"/>
<line x1="324.73" y1="229.90" x2="324.73" y2="228.50" stroke="#333" stroke-width="0.5"/>
<line x1="324.73" y1="129.80" x2="324.73" y2="131.20" stroke="#333" stroke-width="0.5"/>
<line x1="332.22" y1="229.90" x2="332.22" y2="229.10" stroke="#333" stroke-width="0.5"/>
<line x1="332.22" y1="129.80" x2="332.22" y2="130.60" stroke="#333" stroke-width="0.5"/>
<line x1="339.71" y1="229.90" x2="339.71" y2="228.50" stroke="#333" stroke-width="0.5"/>
<line x1="339.71" y1="129.80" x2="339.71" y2="131.20" stroke="#333" stroke-width="0.5"/>
<line x1="347.21" y1="229.90" x2="347.21" y2="229.10" stroke="#333" stroke-width="0.5"/>
<line x1="347.21" y1="129.80" x2="347.21" y2="130.60" stroke="#333" stroke-width="0.5"/>
<line x1="354.70" y1="229.90" x2="354.70" y2="228.50" stroke="#333" stroke-width="0.5"/>
<line x1="354.70" y1="129.80" x2="354.70" y2="131.20" stroke="#333" stroke-width="0.5"/>
<text x="247.4" y="231.75" font-family="Liberation Sans, Arial, sans-serif" font-size="5.2" text-anchor="end" fill="#111" stroke="#111" stroke-width="0.16">0.1</text>
<text x="247.4" y="211.73" font-family="Liberation Sans, Arial, sans-serif" font-size="5.2" text-anchor="end" fill="#111" stroke="#111" stroke-width="0.16">0.2</text>
<text x="247.4" y="191.71" font-family="Liberation Sans, Arial, sans-serif" font-size="5.2" text-anchor="end" fill="#111" stroke="#111" stroke-width="0.16">0.3</text>
<text x="247.4" y="171.69" font-family="Liberation Sans, Arial, sans-serif" font-size="5.2" text-anchor="end" fill="#111" stroke="#111" stroke-width="0.16">0.4</text>
<text x="247.4" y="151.67" font-family="Liberation Sans, Arial, sans-serif" font-size="5.2" text-anchor="end" fill="#111" stroke="#111" stroke-width="0.16">0.5</text>
<text x="247.4" y="131.65" font-family="Liberation Sans, Arial, sans-serif" font-size="5.2" text-anchor="end" fill="#111" stroke="#111" stroke-width="0.16">0.6</text>
<text x="250.10" y="236.4" font-family="Liberation Sans, Arial, sans-serif" font-size="5.2" text-anchor="middle" fill="#111" stroke="#111" stroke-width="0.16">0.5</text>
<text x="265.09" y="236.4" font-family="Liberation Sans, Arial, sans-serif" font-size="5.2" text-anchor="middle" fill="#111" stroke="#111" stroke-width="0.16">1.0</text>
<text x="280.07" y="236.4" font-family="Liberation Sans, Arial, sans-serif" font-size="5.2" text-anchor="middle" fill="#111" stroke="#111" stroke-width="0.16">1.5</text>
<text x="295.06" y="236.4" font-family="Liberation Sans, Arial, sans-serif" font-size="5.2" text-anchor="middle" fill="#111" stroke="#111" stroke-width="0.16">2.0</text>
<text x="310.04" y="236.4" font-family="Liberation Sans, Arial, sans-serif" font-size="5.2" text-anchor="middle" fill="#111" stroke="#111" stroke-width="0.16">2.5</text>
<text x="325.03" y="236.4" font-family="Liberation Sans, Arial, sans-serif" font-size="5.2" text-anchor="middle" fill="#111" stroke="#111" stroke-width="0.16">3.0</text>
<text x="340.01" y="236.4" font-family="Liberation Sans, Arial, sans-serif" font-size="5.2" text-anchor="middle" fill="#111" stroke="#111" stroke-width="0.16">3.5</text>
<text x="355.00" y="236.4" font-family="Liberation Sans, Arial, sans-serif" font-size="5.2" text-anchor="middle" fill="#111" stroke="#111" stroke-width="0.16">4.0</text>
<text x="302.1" y="246.3" font-family="Liberation Sans, Arial, sans-serif" font-size="6.2" text-anchor="middle" fill="#111" stroke="#111" stroke-width="0.16">Bias current density, <tspan font-style="italic">J</tspan><tspan font-size="3.8" dy="1.3" font-style="italic">x</tspan><tspan dy="-1.3"> (×10</tspan><tspan font-size="3.8" dy="-2.4">6</tspan><tspan dy="2.4"> A/cm</tspan><tspan font-size="3.8" dy="-2.4">2</tspan><tspan dy="2.4">)</tspan></text>
<text transform="translate(236.4,181.4) rotate(-90)" font-family="Liberation Sans, Arial, sans-serif" font-size="5.95" text-anchor="middle" fill="#111" stroke="#111" stroke-width="0.16">Reader utilization, <tspan font-style="italic">η</tspan></text>
<text transform="translate(330.6,214.6) rotate(21.5)" font-family="Liberation Sans, Arial, sans-serif" font-size="5.3" font-style="italic" text-anchor="middle" fill="#111" stroke="#111" stroke-width="0.16">TMR 22.2 dB</text>
<rect x="360.00" y="132.40" width="11.40" height="95.80" fill="url(#rb)"/>
<rect x="360.00" y="132.40" width="11.40" height="95.80" fill="none" stroke="#888" stroke-width="0.3"/>
<line x1="371.40" y1="220.11" x2="372.60" y2="220.11" stroke="#444" stroke-width="0.5"/>
<text x="375.6" y="221.71" font-family="Liberation Sans, Arial, sans-serif" font-size="4.5" fill="#111" stroke="#111" stroke-width="0.12">5.000</text>
<line x1="371.40" y1="206.32" x2="372.60" y2="206.32" stroke="#444" stroke-width="0.5"/>
<text x="375.6" y="207.92" font-family="Liberation Sans, Arial, sans-serif" font-size="4.5" fill="#111" stroke="#111" stroke-width="0.12">10.00</text>
<line x1="371.40" y1="192.54" x2="372.60" y2="192.54" stroke="#444" stroke-width="0.5"/>
<text x="375.6" y="194.14" font-family="Liberation Sans, Arial, sans-serif" font-size="4.5" fill="#111" stroke="#111" stroke-width="0.12">15.00</text>
<line x1="371.40" y1="178.75" x2="372.60" y2="178.75" stroke="#444" stroke-width="0.5"/>
<text x="375.6" y="180.35" font-family="Liberation Sans, Arial, sans-serif" font-size="4.5" fill="#111" stroke="#111" stroke-width="0.12">20.00</text>
<line x1="371.40" y1="164.97" x2="372.60" y2="164.97" stroke="#444" stroke-width="0.5"/>
<text x="375.6" y="166.57" font-family="Liberation Sans, Arial, sans-serif" font-size="4.5" fill="#111" stroke="#111" stroke-width="0.12">25.00</text>
<line x1="371.40" y1="151.19" x2="372.60" y2="151.19" stroke="#444" stroke-width="0.5"/>
<text x="375.6" y="152.78" font-family="Liberation Sans, Arial, sans-serif" font-size="4.5" fill="#111" stroke="#111" stroke-width="0.12">30.00</text>
<line x1="371.40" y1="137.40" x2="372.60" y2="137.40" stroke="#444" stroke-width="0.5"/>
<text x="375.6" y="139.00" font-family="Liberation Sans, Arial, sans-serif" font-size="4.5" fill="#111" stroke="#111" stroke-width="0.12">35.00</text>
<text x="372" y="127.9" font-family="Liberation Sans, Arial, sans-serif" font-size="6.3" text-anchor="middle" fill="#111" stroke="#111" stroke-width="0.16">SNR (dB)</text>
</g>
</svg>
</body></html>
